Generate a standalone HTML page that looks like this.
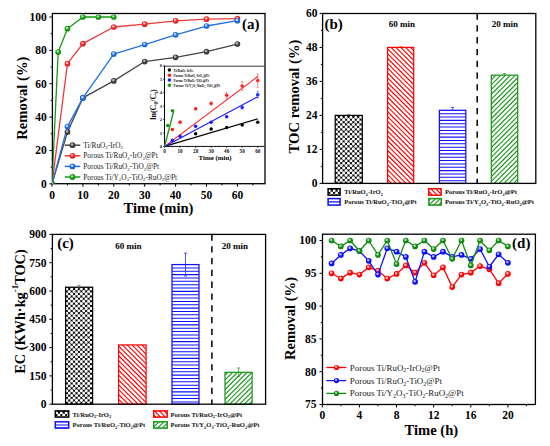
<!DOCTYPE html><html><head><meta charset="utf-8"><style>html,body{margin:0;padding:0;background:#fff;overflow:hidden;}svg{display:block;}</style></head><body>
<svg width="550" height="446" viewBox="0 0 550 446" font-family='"Liberation Serif", serif'>
<defs>
<radialGradient id="gk" cx="0.42" cy="0.38" r="0.62"><stop offset="0" stop-color="#b0b0b0"/><stop offset="0.22" stop-color="#b0b0b0"/><stop offset="0.5" stop-color="#3c3c3c"/><stop offset="1" stop-color="#3c3c3c"/></radialGradient>
<radialGradient id="gr" cx="0.42" cy="0.38" r="0.62"><stop offset="0" stop-color="#ffb0b0"/><stop offset="0.22" stop-color="#ffb0b0"/><stop offset="0.5" stop-color="#ee2020"/><stop offset="1" stop-color="#ee2020"/></radialGradient>
<radialGradient id="gb" cx="0.42" cy="0.38" r="0.62"><stop offset="0" stop-color="#b0d4ff"/><stop offset="0.22" stop-color="#b0d4ff"/><stop offset="0.5" stop-color="#1a68e0"/><stop offset="1" stop-color="#1a68e0"/></radialGradient>
<radialGradient id="gg" cx="0.42" cy="0.38" r="0.62"><stop offset="0" stop-color="#a0e0a0"/><stop offset="0.22" stop-color="#a0e0a0"/><stop offset="0.5" stop-color="#0f950f"/><stop offset="1" stop-color="#0f950f"/></radialGradient>
<radialGradient id="dr" cx="0.42" cy="0.38" r="0.62"><stop offset="0" stop-color="#ffb0b0"/><stop offset="0.22" stop-color="#ffb0b0"/><stop offset="0.5" stop-color="#ff0000"/><stop offset="1" stop-color="#ff0000"/></radialGradient>
<radialGradient id="db" cx="0.42" cy="0.38" r="0.62"><stop offset="0" stop-color="#b0b0ff"/><stop offset="0.22" stop-color="#b0b0ff"/><stop offset="0.5" stop-color="#0a0aff"/><stop offset="1" stop-color="#0a0aff"/></radialGradient>
<radialGradient id="dg" cx="0.42" cy="0.38" r="0.62"><stop offset="0" stop-color="#a0d8a0"/><stop offset="0.22" stop-color="#a0d8a0"/><stop offset="0.5" stop-color="#0e880e"/><stop offset="1" stop-color="#0e880e"/></radialGradient>
<pattern id="pbs" patternUnits="userSpaceOnUse" width="3.42" height="3.42" patternTransform="rotate(45)"><rect width="3.42" height="3.42" fill="#fff"/><line x1="0" y1="1.71" x2="3.42" y2="1.71" stroke="#ff0000" stroke-width="1.2"/></pattern>
<pattern id="pfs" patternUnits="userSpaceOnUse" width="3.42" height="3.42" patternTransform="rotate(-45)"><rect width="3.42" height="3.42" fill="#fff"/><line x1="0" y1="1.71" x2="3.42" y2="1.71" stroke="#1a961a" stroke-width="1.2"/></pattern>
<pattern id="phz" patternUnits="userSpaceOnUse" width="10" height="3.35" y="0"><rect width="10" height="3.35" fill="#fff"/><line x1="0" y1="0" x2="10" y2="0" stroke="#1010ff" stroke-width="1.1"/></pattern>
<pattern id="pxx" patternUnits="userSpaceOnUse" width="3.42" height="3.42" patternTransform="rotate(45)"><rect width="3.42" height="3.42" fill="#fff"/><line x1="0" y1="1.71" x2="3.42" y2="1.71" stroke="#000" stroke-width="1.3"/><line x1="1.71" y1="0" x2="1.71" y2="3.42" stroke="#000" stroke-width="1.3"/></pattern>
</defs>
<rect width="550" height="446" fill="#fff"/>
<line x1="49.4" y1="183.8" x2="52.4" y2="183.8" stroke="#000" stroke-width="1" />
<text x="46.8" y="187.6" font-size="11.5" font-weight="bold" text-anchor="end" >0</text>
<line x1="50.7" y1="167.12" x2="52.4" y2="167.12" stroke="#000" stroke-width="1" />
<line x1="49.4" y1="150.44" x2="52.4" y2="150.44" stroke="#000" stroke-width="1" />
<text x="46.8" y="154.24" font-size="11.5" font-weight="bold" text-anchor="end" >20</text>
<line x1="50.7" y1="133.76" x2="52.4" y2="133.76" stroke="#000" stroke-width="1" />
<line x1="49.4" y1="117.08" x2="52.4" y2="117.08" stroke="#000" stroke-width="1" />
<text x="46.8" y="120.88" font-size="11.5" font-weight="bold" text-anchor="end" >40</text>
<line x1="50.7" y1="100.4" x2="52.4" y2="100.4" stroke="#000" stroke-width="1" />
<line x1="49.4" y1="83.72" x2="52.4" y2="83.72" stroke="#000" stroke-width="1" />
<text x="46.8" y="87.52" font-size="11.5" font-weight="bold" text-anchor="end" >60</text>
<line x1="50.7" y1="67.04" x2="52.4" y2="67.04" stroke="#000" stroke-width="1" />
<line x1="49.4" y1="50.36" x2="52.4" y2="50.36" stroke="#000" stroke-width="1" />
<text x="46.8" y="54.16" font-size="11.5" font-weight="bold" text-anchor="end" >80</text>
<line x1="50.7" y1="33.68" x2="52.4" y2="33.68" stroke="#000" stroke-width="1" />
<line x1="49.4" y1="17" x2="52.4" y2="17" stroke="#000" stroke-width="1" />
<text x="46.8" y="20.8" font-size="11.5" font-weight="bold" text-anchor="end" >100</text>
<line x1="52" y1="183.7" x2="52" y2="186.7" stroke="#000" stroke-width="1" />
<text x="52" y="199" font-size="11.5" font-weight="bold" text-anchor="middle" >0</text>
<line x1="67.45" y1="183.7" x2="67.45" y2="185.4" stroke="#000" stroke-width="1" />
<line x1="82.9" y1="183.7" x2="82.9" y2="186.7" stroke="#000" stroke-width="1" />
<text x="82.9" y="199" font-size="11.5" font-weight="bold" text-anchor="middle" >10</text>
<line x1="98.35" y1="183.7" x2="98.35" y2="185.4" stroke="#000" stroke-width="1" />
<line x1="113.8" y1="183.7" x2="113.8" y2="186.7" stroke="#000" stroke-width="1" />
<text x="113.8" y="199" font-size="11.5" font-weight="bold" text-anchor="middle" >20</text>
<line x1="129.25" y1="183.7" x2="129.25" y2="185.4" stroke="#000" stroke-width="1" />
<line x1="144.7" y1="183.7" x2="144.7" y2="186.7" stroke="#000" stroke-width="1" />
<text x="144.7" y="199" font-size="11.5" font-weight="bold" text-anchor="middle" >30</text>
<line x1="160.15" y1="183.7" x2="160.15" y2="185.4" stroke="#000" stroke-width="1" />
<line x1="175.6" y1="183.7" x2="175.6" y2="186.7" stroke="#000" stroke-width="1" />
<text x="175.6" y="199" font-size="11.5" font-weight="bold" text-anchor="middle" >40</text>
<line x1="191.05" y1="183.7" x2="191.05" y2="185.4" stroke="#000" stroke-width="1" />
<line x1="206.5" y1="183.7" x2="206.5" y2="186.7" stroke="#000" stroke-width="1" />
<text x="206.5" y="199" font-size="11.5" font-weight="bold" text-anchor="middle" >50</text>
<line x1="221.95" y1="183.7" x2="221.95" y2="185.4" stroke="#000" stroke-width="1" />
<line x1="237.4" y1="183.7" x2="237.4" y2="186.7" stroke="#000" stroke-width="1" />
<text x="237.4" y="199" font-size="11.5" font-weight="bold" text-anchor="middle" >60</text>
<line x1="252.85" y1="183.7" x2="252.85" y2="185.4" stroke="#000" stroke-width="1" />
<text x="158.5" y="213.4" font-size="14.6" font-weight="bold" text-anchor="middle" >Time (min)</text>
<text x="0" y="0" font-size="14.6" font-weight="bold" text-anchor="middle" transform="translate(26.6,98.2) rotate(-90)">Removal (%)</text>
<text x="242" y="28.5" font-size="15" font-weight="bold" text-anchor="start" >(a)</text>
<rect x="52.4" y="13.5" width="212.6" height="170.2" fill="none" stroke="#000" stroke-width="1.3" />
<clipPath id="clipa"><rect x="52.4" y="13.5" width="212.6" height="170.2"/></clipPath><g clip-path="url(#clipa)">
<polyline points="52,183.8 67.45,132.09 82.9,97.9 113.8,80.88 144.7,61.54 175.6,57.37 206.5,51.69 237.4,44.02" fill="none" stroke="#444444" stroke-width="1.3" stroke-linejoin="round"/>
<polyline points="52,183.8 67.45,63.7 82.9,43.69 113.8,27.01 144.7,24.17 175.6,20.84 206.5,19.17 237.4,18.67" fill="none" stroke="#f03a3a" stroke-width="1.3" stroke-linejoin="round"/>
<polyline points="52,183.8 67.45,126.59 82.9,97.9 113.8,54.03 144.7,44.52 175.6,34.85 206.5,26.01 237.4,20.67" fill="none" stroke="#2070e8" stroke-width="1.3" stroke-linejoin="round"/>
<polyline points="52,183.8 58.18,52.03 67.45,28.68 82.9,17 98.35,17 113.8,17" fill="none" stroke="#149a14" stroke-width="1.3" stroke-linejoin="round"/>
<circle cx="52" cy="183.8" r="2.85" fill="url(#gk)"/>
<circle cx="67.45" cy="132.09" r="2.85" fill="url(#gk)"/>
<circle cx="82.9" cy="97.9" r="2.85" fill="url(#gk)"/>
<circle cx="113.8" cy="80.88" r="2.85" fill="url(#gk)"/>
<circle cx="144.7" cy="61.54" r="2.85" fill="url(#gk)"/>
<circle cx="175.6" cy="57.37" r="2.85" fill="url(#gk)"/>
<circle cx="206.5" cy="51.69" r="2.85" fill="url(#gk)"/>
<circle cx="237.4" cy="44.02" r="2.85" fill="url(#gk)"/>
<circle cx="52" cy="183.8" r="2.85" fill="url(#gr)"/>
<circle cx="67.45" cy="63.7" r="2.85" fill="url(#gr)"/>
<circle cx="82.9" cy="43.69" r="2.85" fill="url(#gr)"/>
<circle cx="113.8" cy="27.01" r="2.85" fill="url(#gr)"/>
<circle cx="144.7" cy="24.17" r="2.85" fill="url(#gr)"/>
<circle cx="175.6" cy="20.84" r="2.85" fill="url(#gr)"/>
<circle cx="206.5" cy="19.17" r="2.85" fill="url(#gr)"/>
<circle cx="237.4" cy="18.67" r="2.85" fill="url(#gr)"/>
<circle cx="52" cy="183.8" r="2.85" fill="url(#gb)"/>
<circle cx="67.45" cy="126.59" r="2.85" fill="url(#gb)"/>
<circle cx="82.9" cy="97.9" r="2.85" fill="url(#gb)"/>
<circle cx="113.8" cy="54.03" r="2.85" fill="url(#gb)"/>
<circle cx="144.7" cy="44.52" r="2.85" fill="url(#gb)"/>
<circle cx="175.6" cy="34.85" r="2.85" fill="url(#gb)"/>
<circle cx="206.5" cy="26.01" r="2.85" fill="url(#gb)"/>
<circle cx="237.4" cy="20.67" r="2.85" fill="url(#gb)"/>
<circle cx="52" cy="183.8" r="2.85" fill="url(#gg)"/>
<circle cx="58.18" cy="52.03" r="2.85" fill="url(#gg)"/>
<circle cx="67.45" cy="28.68" r="2.85" fill="url(#gg)"/>
<circle cx="82.9" cy="17" r="2.85" fill="url(#gg)"/>
<circle cx="98.35" cy="17" r="2.85" fill="url(#gg)"/>
<circle cx="113.8" cy="17" r="2.85" fill="url(#gg)"/>
</g>
<line x1="64.8" y1="145.2" x2="80.3" y2="145.2" stroke="#444444" stroke-width="1.5" />
<circle cx="72.5" cy="145.2" r="2.9" fill="url(#gk)"/>
<text x="83.3" y="147.7" font-size="7.3" font-weight="normal" fill="#222">Ti/RuO<tspan font-size="5" dy="1.6">2</tspan><tspan dy="-1.6">-IrO</tspan><tspan font-size="5" dy="1.6">2</tspan><tspan dy="-1.6"></tspan></text>
<line x1="64.8" y1="155.8" x2="80.3" y2="155.8" stroke="#f03a3a" stroke-width="1.5" />
<circle cx="72.5" cy="155.8" r="2.9" fill="url(#gr)"/>
<text x="83.3" y="158.3" font-size="7.3" font-weight="normal" fill="#222">Porous Ti/RuO<tspan font-size="5" dy="1.6">2</tspan><tspan dy="-1.6">-IrO</tspan><tspan font-size="5" dy="1.6">2</tspan><tspan dy="-1.6">@Pt</tspan></text>
<line x1="64.8" y1="166.4" x2="80.3" y2="166.4" stroke="#2070e8" stroke-width="1.5" />
<circle cx="72.5" cy="166.4" r="2.9" fill="url(#gb)"/>
<text x="83.3" y="168.9" font-size="7.3" font-weight="normal" fill="#222">Porous Ti/RuO<tspan font-size="5" dy="1.6">2</tspan><tspan dy="-1.6">-TiO</tspan><tspan font-size="5" dy="1.6">2</tspan><tspan dy="-1.6">@Pt</tspan></text>
<line x1="64.8" y1="177" x2="80.3" y2="177" stroke="#149a14" stroke-width="1.5" />
<circle cx="72.5" cy="177" r="2.9" fill="url(#gg)"/>
<text x="83.3" y="179.5" font-size="7.3" font-weight="normal" fill="#222">Porous Ti/Y<tspan font-size="5" dy="1.6">2</tspan><tspan dy="-1.6">O</tspan><tspan font-size="5" dy="1.6">3</tspan><tspan dy="-1.6">-TiO</tspan><tspan font-size="5" dy="1.6">2</tspan><tspan dy="-1.6">-RuO</tspan><tspan font-size="5" dy="1.6">2</tspan><tspan dy="-1.6">@Pt</tspan></text>
<line x1="164.5" y1="66.2" x2="264.5" y2="66.2" stroke="#222" stroke-width="0.9" />
<line x1="164.5" y1="146.4" x2="264.5" y2="146.4" stroke="#111" stroke-width="1.0" />
<line x1="164.5" y1="65.75" x2="164.5" y2="146.9" stroke="#000" stroke-width="1.0" />
<line x1="163" y1="146.4" x2="164.5" y2="146.4" stroke="#000" stroke-width="0.7" />
<text x="160.9" y="148" font-size="4.8" font-weight="bold" text-anchor="middle" fill="#111">0</text>
<line x1="163" y1="132.97" x2="164.5" y2="132.97" stroke="#000" stroke-width="0.7" />
<text x="160.9" y="134.57" font-size="4.8" font-weight="bold" text-anchor="middle" fill="#111">1</text>
<line x1="163" y1="119.54" x2="164.5" y2="119.54" stroke="#000" stroke-width="0.7" />
<text x="160.9" y="121.14" font-size="4.8" font-weight="bold" text-anchor="middle" fill="#111">2</text>
<line x1="163" y1="106.11" x2="164.5" y2="106.11" stroke="#000" stroke-width="0.7" />
<text x="160.9" y="107.71" font-size="4.8" font-weight="bold" text-anchor="middle" fill="#111">3</text>
<line x1="163" y1="92.68" x2="164.5" y2="92.68" stroke="#000" stroke-width="0.7" />
<text x="160.9" y="94.28" font-size="4.8" font-weight="bold" text-anchor="middle" fill="#111">4</text>
<line x1="163" y1="79.25" x2="164.5" y2="79.25" stroke="#000" stroke-width="0.7" />
<text x="160.9" y="80.85" font-size="4.8" font-weight="bold" text-anchor="middle" fill="#111">5</text>
<line x1="163" y1="65.82" x2="164.5" y2="65.82" stroke="#000" stroke-width="0.7" />
<text x="160.9" y="67.42" font-size="4.8" font-weight="bold" text-anchor="middle" fill="#111">6</text>
<line x1="164.6" y1="146.4" x2="164.6" y2="147.9" stroke="#000" stroke-width="0.7" />
<text x="164.6" y="153.2" font-size="5.2" font-weight="bold" text-anchor="middle" fill="#111">0</text>
<line x1="172.36" y1="146.4" x2="172.36" y2="147.3" stroke="#000" stroke-width="0.7" />
<line x1="180.12" y1="146.4" x2="180.12" y2="147.9" stroke="#000" stroke-width="0.7" />
<text x="180.12" y="153.2" font-size="5.2" font-weight="bold" text-anchor="middle" fill="#111">10</text>
<line x1="187.88" y1="146.4" x2="187.88" y2="147.3" stroke="#000" stroke-width="0.7" />
<line x1="195.64" y1="146.4" x2="195.64" y2="147.9" stroke="#000" stroke-width="0.7" />
<text x="195.64" y="153.2" font-size="5.2" font-weight="bold" text-anchor="middle" fill="#111">20</text>
<line x1="203.4" y1="146.4" x2="203.4" y2="147.3" stroke="#000" stroke-width="0.7" />
<line x1="211.16" y1="146.4" x2="211.16" y2="147.9" stroke="#000" stroke-width="0.7" />
<text x="211.16" y="153.2" font-size="5.2" font-weight="bold" text-anchor="middle" fill="#111">30</text>
<line x1="218.92" y1="146.4" x2="218.92" y2="147.3" stroke="#000" stroke-width="0.7" />
<line x1="226.68" y1="146.4" x2="226.68" y2="147.9" stroke="#000" stroke-width="0.7" />
<text x="226.68" y="153.2" font-size="5.2" font-weight="bold" text-anchor="middle" fill="#111">40</text>
<line x1="234.44" y1="146.4" x2="234.44" y2="147.3" stroke="#000" stroke-width="0.7" />
<line x1="242.2" y1="146.4" x2="242.2" y2="147.9" stroke="#000" stroke-width="0.7" />
<text x="242.2" y="153.2" font-size="5.2" font-weight="bold" text-anchor="middle" fill="#111">50</text>
<line x1="249.96" y1="146.4" x2="249.96" y2="147.3" stroke="#000" stroke-width="0.7" />
<line x1="257.72" y1="146.4" x2="257.72" y2="147.9" stroke="#000" stroke-width="0.7" />
<text x="257.72" y="153.2" font-size="5.2" font-weight="bold" text-anchor="middle" fill="#111">60</text>
<text x="215.1" y="160" font-size="6.9" font-weight="bold" text-anchor="middle" >Time (min)</text>
<text x="0" y="0" font-size="8" font-weight="bold" fill="#111" text-anchor="middle" transform="translate(156.3,104.5) rotate(-90)">ln(C<tspan font-size="5.6" dy="1.8">0</tspan><tspan dy="-1.8">/C</tspan><tspan font-size="5.6" dy="1.8">t</tspan><tspan dy="-1.8">)</tspan></text>
<g clip-path="none">
<line x1="164.6" y1="146.4" x2="257.72" y2="118.87" stroke="#000" stroke-width="1.1" />
<line x1="164.6" y1="146.4" x2="257.72" y2="76.56" stroke="#ff1a1a" stroke-width="1.1" />
<line x1="164.6" y1="146.4" x2="257.72" y2="96.71" stroke="#1a1aff" stroke-width="1.1" />
<line x1="164.6" y1="146.4" x2="173.91" y2="110.14" stroke="#1a9a1a" stroke-width="1.4" />
</g>
<circle cx="195.64" cy="133.64" r="1.75" fill="#000"/>
<circle cx="211.16" cy="128.94" r="1.75" fill="#000"/>
<circle cx="226.68" cy="127.6" r="1.75" fill="#000"/>
<circle cx="242.2" cy="124.91" r="1.75" fill="#000"/>
<circle cx="257.72" cy="122.23" r="1.75" fill="#000"/>
<circle cx="172.36" cy="129.61" r="1.75" fill="#ff1a1a"/>
<circle cx="180.12" cy="122.23" r="1.75" fill="#ff1a1a"/>
<circle cx="195.64" cy="108.8" r="1.75" fill="#ff1a1a"/>
<circle cx="211.16" cy="103.42" r="1.75" fill="#ff1a1a"/>
<circle cx="226.68" cy="95.37" r="1.75" fill="#ff1a1a"/>
<circle cx="242.2" cy="85.97" r="1.75" fill="#ff1a1a"/>
<circle cx="257.72" cy="80.59" r="1.75" fill="#ff1a1a"/>
<circle cx="172.36" cy="140.36" r="1.75" fill="#1a1aff"/>
<circle cx="180.12" cy="136.33" r="1.75" fill="#1a1aff"/>
<circle cx="195.64" cy="126.26" r="1.75" fill="#1a1aff"/>
<circle cx="211.16" cy="122.23" r="1.75" fill="#1a1aff"/>
<circle cx="226.68" cy="116.85" r="1.75" fill="#1a1aff"/>
<circle cx="242.2" cy="107.45" r="1.75" fill="#1a1aff"/>
<circle cx="257.72" cy="94.69" r="1.75" fill="#1a1aff"/>
<circle cx="167.7" cy="125.58" r="1.75" fill="#1a9a1a"/>
<circle cx="172.36" cy="110.81" r="1.75" fill="#1a9a1a"/>
<line x1="180.12" y1="123.57" x2="180.12" y2="120.88" stroke="#ff4040" stroke-width="0.6" />
<line x1="179.12" y1="123.57" x2="181.12" y2="123.57" stroke="#ff4040" stroke-width="0.6" />
<line x1="179.12" y1="120.88" x2="181.12" y2="120.88" stroke="#ff4040" stroke-width="0.6" />
<line x1="211.16" y1="105.04" x2="211.16" y2="101.81" stroke="#ff4040" stroke-width="0.6" />
<line x1="210.16" y1="105.04" x2="212.16" y2="105.04" stroke="#ff4040" stroke-width="0.6" />
<line x1="210.16" y1="101.81" x2="212.16" y2="101.81" stroke="#ff4040" stroke-width="0.6" />
<line x1="226.68" y1="98.32" x2="226.68" y2="92.41" stroke="#ff4040" stroke-width="0.6" />
<line x1="225.68" y1="98.32" x2="227.68" y2="98.32" stroke="#ff4040" stroke-width="0.6" />
<line x1="225.68" y1="92.41" x2="227.68" y2="92.41" stroke="#ff4040" stroke-width="0.6" />
<line x1="242.2" y1="90.26" x2="242.2" y2="81.67" stroke="#ff4040" stroke-width="0.6" />
<line x1="241.2" y1="90.26" x2="243.2" y2="90.26" stroke="#ff4040" stroke-width="0.6" />
<line x1="241.2" y1="81.67" x2="243.2" y2="81.67" stroke="#ff4040" stroke-width="0.6" />
<line x1="257.72" y1="87.31" x2="257.72" y2="73.88" stroke="#ff4040" stroke-width="0.6" />
<line x1="256.72" y1="87.31" x2="258.72" y2="87.31" stroke="#ff4040" stroke-width="0.6" />
<line x1="256.72" y1="73.88" x2="258.72" y2="73.88" stroke="#ff4040" stroke-width="0.6" />
<line x1="242.2" y1="109.06" x2="242.2" y2="105.84" stroke="#4040ff" stroke-width="0.6" />
<line x1="241.2" y1="109.06" x2="243.2" y2="109.06" stroke="#4040ff" stroke-width="0.6" />
<line x1="241.2" y1="105.84" x2="243.2" y2="105.84" stroke="#4040ff" stroke-width="0.6" />
<line x1="257.72" y1="98.05" x2="257.72" y2="91.34" stroke="#4040ff" stroke-width="0.6" />
<line x1="256.72" y1="98.05" x2="258.72" y2="98.05" stroke="#4040ff" stroke-width="0.6" />
<line x1="256.72" y1="91.34" x2="258.72" y2="91.34" stroke="#4040ff" stroke-width="0.6" />
<circle cx="169.4" cy="70.0" r="1.7" fill="#000"/>
<text x="173.5" y="71.5" font-size="4.4" font-weight="bold" fill="#111" textLength="20" lengthAdjust="spacingAndGlyphs">Ti/RuO<tspan font-size="2.6" dy="0.9">2</tspan><tspan dy="-0.9">-IrO</tspan><tspan font-size="2.6" dy="0.9">2</tspan><tspan dy="-0.9"></tspan></text>
<circle cx="169.4" cy="75.2" r="1.7" fill="#ff1a1a"/>
<text x="173.5" y="76.7" font-size="4.4" font-weight="bold" fill="#111" textLength="35.8" lengthAdjust="spacingAndGlyphs">Porous Ti/RuO<tspan font-size="2.6" dy="0.9">2</tspan><tspan dy="-0.9">-IrO</tspan><tspan font-size="2.6" dy="0.9">2</tspan><tspan dy="-0.9">@Pt</tspan></text>
<circle cx="169.4" cy="80.0" r="1.7" fill="#1a1aff"/>
<text x="173.5" y="81.5" font-size="4.4" font-weight="bold" fill="#111" textLength="35.3" lengthAdjust="spacingAndGlyphs">Porous Ti/RuO<tspan font-size="2.6" dy="0.9">2</tspan><tspan dy="-0.9">-TiO</tspan><tspan font-size="2.6" dy="0.9">2</tspan><tspan dy="-0.9">@Pt</tspan></text>
<circle cx="169.4" cy="85.3" r="1.7" fill="#1a9a1a"/>
<text x="173.5" y="86.8" font-size="4.4" font-weight="bold" fill="#111" textLength="46.7" lengthAdjust="spacingAndGlyphs">Porous Ti/Y<tspan font-size="2.6" dy="0.9">2</tspan><tspan dy="-0.9">O</tspan><tspan font-size="2.6" dy="0.9">3</tspan><tspan dy="-0.9">-RuO</tspan><tspan font-size="2.6" dy="0.9">2</tspan><tspan dy="-0.9">-TiO</tspan><tspan font-size="2.6" dy="0.9">2</tspan><tspan dy="-0.9">@Pt</tspan></text>
<line x1="319.6" y1="183.4" x2="322.6" y2="183.4" stroke="#000" stroke-width="1" />
<text x="317.6" y="187.2" font-size="11.5" font-weight="bold" text-anchor="end" >0</text>
<line x1="320.9" y1="166.4" x2="322.6" y2="166.4" stroke="#000" stroke-width="1" />
<line x1="319.6" y1="149.4" x2="322.6" y2="149.4" stroke="#000" stroke-width="1" />
<text x="317.6" y="153.2" font-size="11.5" font-weight="bold" text-anchor="end" >12</text>
<line x1="320.9" y1="132.4" x2="322.6" y2="132.4" stroke="#000" stroke-width="1" />
<line x1="319.6" y1="115.4" x2="322.6" y2="115.4" stroke="#000" stroke-width="1" />
<text x="317.6" y="119.2" font-size="11.5" font-weight="bold" text-anchor="end" >24</text>
<line x1="320.9" y1="98.4" x2="322.6" y2="98.4" stroke="#000" stroke-width="1" />
<line x1="319.6" y1="81.4" x2="322.6" y2="81.4" stroke="#000" stroke-width="1" />
<text x="317.6" y="85.2" font-size="11.5" font-weight="bold" text-anchor="end" >36</text>
<line x1="320.9" y1="64.4" x2="322.6" y2="64.4" stroke="#000" stroke-width="1" />
<line x1="319.6" y1="47.4" x2="322.6" y2="47.4" stroke="#000" stroke-width="1" />
<text x="317.6" y="51.2" font-size="11.5" font-weight="bold" text-anchor="end" >48</text>
<line x1="320.9" y1="30.4" x2="322.6" y2="30.4" stroke="#000" stroke-width="1" />
<line x1="319.6" y1="13.4" x2="322.6" y2="13.4" stroke="#000" stroke-width="1" />
<text x="317.6" y="17.2" font-size="11.5" font-weight="bold" text-anchor="end" >60</text>
<text x="0" y="0" font-size="14.6" font-weight="bold" text-anchor="middle" transform="translate(298.6,96.5) rotate(-90)">TOC removal (%)</text>
<clipPath id="c1"><rect x="335.2" y="115.4" width="27.1" height="68"/></clipPath>
<g clip-path="url(#c1)" stroke="#000" stroke-width="1.15">
<rect x="335.2" y="115.4" width="27.1" height="68" fill="#000" stroke="none"/>
<path fill="#fff" stroke="none" d="M334.86 117.22a1.55 1.55 0 1 0 3.1 0a1.55 1.55 0 1 0 -3.1 0M339.7 117.22a1.55 1.55 0 1 0 3.1 0a1.55 1.55 0 1 0 -3.1 0M344.54 117.22a1.55 1.55 0 1 0 3.1 0a1.55 1.55 0 1 0 -3.1 0M349.38 117.22a1.55 1.55 0 1 0 3.1 0a1.55 1.55 0 1 0 -3.1 0M354.22 117.22a1.55 1.55 0 1 0 3.1 0a1.55 1.55 0 1 0 -3.1 0M359.06 117.22a1.55 1.55 0 1 0 3.1 0a1.55 1.55 0 1 0 -3.1 0M337.28 119.64a1.55 1.55 0 1 0 3.1 0a1.55 1.55 0 1 0 -3.1 0M342.12 119.64a1.55 1.55 0 1 0 3.1 0a1.55 1.55 0 1 0 -3.1 0M346.96 119.64a1.55 1.55 0 1 0 3.1 0a1.55 1.55 0 1 0 -3.1 0M351.8 119.64a1.55 1.55 0 1 0 3.1 0a1.55 1.55 0 1 0 -3.1 0M356.64 119.64a1.55 1.55 0 1 0 3.1 0a1.55 1.55 0 1 0 -3.1 0M361.48 119.64a1.55 1.55 0 1 0 3.1 0a1.55 1.55 0 1 0 -3.1 0M334.86 122.06a1.55 1.55 0 1 0 3.1 0a1.55 1.55 0 1 0 -3.1 0M339.7 122.06a1.55 1.55 0 1 0 3.1 0a1.55 1.55 0 1 0 -3.1 0M344.54 122.06a1.55 1.55 0 1 0 3.1 0a1.55 1.55 0 1 0 -3.1 0M349.38 122.06a1.55 1.55 0 1 0 3.1 0a1.55 1.55 0 1 0 -3.1 0M354.22 122.06a1.55 1.55 0 1 0 3.1 0a1.55 1.55 0 1 0 -3.1 0M359.06 122.06a1.55 1.55 0 1 0 3.1 0a1.55 1.55 0 1 0 -3.1 0M337.28 124.48a1.55 1.55 0 1 0 3.1 0a1.55 1.55 0 1 0 -3.1 0M342.12 124.48a1.55 1.55 0 1 0 3.1 0a1.55 1.55 0 1 0 -3.1 0M346.96 124.48a1.55 1.55 0 1 0 3.1 0a1.55 1.55 0 1 0 -3.1 0M351.8 124.48a1.55 1.55 0 1 0 3.1 0a1.55 1.55 0 1 0 -3.1 0M356.64 124.48a1.55 1.55 0 1 0 3.1 0a1.55 1.55 0 1 0 -3.1 0M361.48 124.48a1.55 1.55 0 1 0 3.1 0a1.55 1.55 0 1 0 -3.1 0M334.86 126.9a1.55 1.55 0 1 0 3.1 0a1.55 1.55 0 1 0 -3.1 0M339.7 126.9a1.55 1.55 0 1 0 3.1 0a1.55 1.55 0 1 0 -3.1 0M344.54 126.9a1.55 1.55 0 1 0 3.1 0a1.55 1.55 0 1 0 -3.1 0M349.38 126.9a1.55 1.55 0 1 0 3.1 0a1.55 1.55 0 1 0 -3.1 0M354.22 126.9a1.55 1.55 0 1 0 3.1 0a1.55 1.55 0 1 0 -3.1 0M359.06 126.9a1.55 1.55 0 1 0 3.1 0a1.55 1.55 0 1 0 -3.1 0M337.28 129.32a1.55 1.55 0 1 0 3.1 0a1.55 1.55 0 1 0 -3.1 0M342.12 129.32a1.55 1.55 0 1 0 3.1 0a1.55 1.55 0 1 0 -3.1 0M346.96 129.32a1.55 1.55 0 1 0 3.1 0a1.55 1.55 0 1 0 -3.1 0M351.8 129.32a1.55 1.55 0 1 0 3.1 0a1.55 1.55 0 1 0 -3.1 0M356.64 129.32a1.55 1.55 0 1 0 3.1 0a1.55 1.55 0 1 0 -3.1 0M361.48 129.32a1.55 1.55 0 1 0 3.1 0a1.55 1.55 0 1 0 -3.1 0M334.86 131.74a1.55 1.55 0 1 0 3.1 0a1.55 1.55 0 1 0 -3.1 0M339.7 131.74a1.55 1.55 0 1 0 3.1 0a1.55 1.55 0 1 0 -3.1 0M344.54 131.74a1.55 1.55 0 1 0 3.1 0a1.55 1.55 0 1 0 -3.1 0M349.38 131.74a1.55 1.55 0 1 0 3.1 0a1.55 1.55 0 1 0 -3.1 0M354.22 131.74a1.55 1.55 0 1 0 3.1 0a1.55 1.55 0 1 0 -3.1 0M359.06 131.74a1.55 1.55 0 1 0 3.1 0a1.55 1.55 0 1 0 -3.1 0M337.28 134.16a1.55 1.55 0 1 0 3.1 0a1.55 1.55 0 1 0 -3.1 0M342.12 134.16a1.55 1.55 0 1 0 3.1 0a1.55 1.55 0 1 0 -3.1 0M346.96 134.16a1.55 1.55 0 1 0 3.1 0a1.55 1.55 0 1 0 -3.1 0M351.8 134.16a1.55 1.55 0 1 0 3.1 0a1.55 1.55 0 1 0 -3.1 0M356.64 134.16a1.55 1.55 0 1 0 3.1 0a1.55 1.55 0 1 0 -3.1 0M361.48 134.16a1.55 1.55 0 1 0 3.1 0a1.55 1.55 0 1 0 -3.1 0M334.86 136.58a1.55 1.55 0 1 0 3.1 0a1.55 1.55 0 1 0 -3.1 0M339.7 136.58a1.55 1.55 0 1 0 3.1 0a1.55 1.55 0 1 0 -3.1 0M344.54 136.58a1.55 1.55 0 1 0 3.1 0a1.55 1.55 0 1 0 -3.1 0M349.38 136.58a1.55 1.55 0 1 0 3.1 0a1.55 1.55 0 1 0 -3.1 0M354.22 136.58a1.55 1.55 0 1 0 3.1 0a1.55 1.55 0 1 0 -3.1 0M359.06 136.58a1.55 1.55 0 1 0 3.1 0a1.55 1.55 0 1 0 -3.1 0M337.28 139a1.55 1.55 0 1 0 3.1 0a1.55 1.55 0 1 0 -3.1 0M342.12 139a1.55 1.55 0 1 0 3.1 0a1.55 1.55 0 1 0 -3.1 0M346.96 139a1.55 1.55 0 1 0 3.1 0a1.55 1.55 0 1 0 -3.1 0M351.8 139a1.55 1.55 0 1 0 3.1 0a1.55 1.55 0 1 0 -3.1 0M356.64 139a1.55 1.55 0 1 0 3.1 0a1.55 1.55 0 1 0 -3.1 0M361.48 139a1.55 1.55 0 1 0 3.1 0a1.55 1.55 0 1 0 -3.1 0M334.86 141.42a1.55 1.55 0 1 0 3.1 0a1.55 1.55 0 1 0 -3.1 0M339.7 141.42a1.55 1.55 0 1 0 3.1 0a1.55 1.55 0 1 0 -3.1 0M344.54 141.42a1.55 1.55 0 1 0 3.1 0a1.55 1.55 0 1 0 -3.1 0M349.38 141.42a1.55 1.55 0 1 0 3.1 0a1.55 1.55 0 1 0 -3.1 0M354.22 141.42a1.55 1.55 0 1 0 3.1 0a1.55 1.55 0 1 0 -3.1 0M359.06 141.42a1.55 1.55 0 1 0 3.1 0a1.55 1.55 0 1 0 -3.1 0M337.28 143.84a1.55 1.55 0 1 0 3.1 0a1.55 1.55 0 1 0 -3.1 0M342.12 143.84a1.55 1.55 0 1 0 3.1 0a1.55 1.55 0 1 0 -3.1 0M346.96 143.84a1.55 1.55 0 1 0 3.1 0a1.55 1.55 0 1 0 -3.1 0M351.8 143.84a1.55 1.55 0 1 0 3.1 0a1.55 1.55 0 1 0 -3.1 0M356.64 143.84a1.55 1.55 0 1 0 3.1 0a1.55 1.55 0 1 0 -3.1 0M361.48 143.84a1.55 1.55 0 1 0 3.1 0a1.55 1.55 0 1 0 -3.1 0M334.86 146.26a1.55 1.55 0 1 0 3.1 0a1.55 1.55 0 1 0 -3.1 0M339.7 146.26a1.55 1.55 0 1 0 3.1 0a1.55 1.55 0 1 0 -3.1 0M344.54 146.26a1.55 1.55 0 1 0 3.1 0a1.55 1.55 0 1 0 -3.1 0M349.38 146.26a1.55 1.55 0 1 0 3.1 0a1.55 1.55 0 1 0 -3.1 0M354.22 146.26a1.55 1.55 0 1 0 3.1 0a1.55 1.55 0 1 0 -3.1 0M359.06 146.26a1.55 1.55 0 1 0 3.1 0a1.55 1.55 0 1 0 -3.1 0M337.28 148.68a1.55 1.55 0 1 0 3.1 0a1.55 1.55 0 1 0 -3.1 0M342.12 148.68a1.55 1.55 0 1 0 3.1 0a1.55 1.55 0 1 0 -3.1 0M346.96 148.68a1.55 1.55 0 1 0 3.1 0a1.55 1.55 0 1 0 -3.1 0M351.8 148.68a1.55 1.55 0 1 0 3.1 0a1.55 1.55 0 1 0 -3.1 0M356.64 148.68a1.55 1.55 0 1 0 3.1 0a1.55 1.55 0 1 0 -3.1 0M361.48 148.68a1.55 1.55 0 1 0 3.1 0a1.55 1.55 0 1 0 -3.1 0M334.86 151.1a1.55 1.55 0 1 0 3.1 0a1.55 1.55 0 1 0 -3.1 0M339.7 151.1a1.55 1.55 0 1 0 3.1 0a1.55 1.55 0 1 0 -3.1 0M344.54 151.1a1.55 1.55 0 1 0 3.1 0a1.55 1.55 0 1 0 -3.1 0M349.38 151.1a1.55 1.55 0 1 0 3.1 0a1.55 1.55 0 1 0 -3.1 0M354.22 151.1a1.55 1.55 0 1 0 3.1 0a1.55 1.55 0 1 0 -3.1 0M359.06 151.1a1.55 1.55 0 1 0 3.1 0a1.55 1.55 0 1 0 -3.1 0M337.28 153.52a1.55 1.55 0 1 0 3.1 0a1.55 1.55 0 1 0 -3.1 0M342.12 153.52a1.55 1.55 0 1 0 3.1 0a1.55 1.55 0 1 0 -3.1 0M346.96 153.52a1.55 1.55 0 1 0 3.1 0a1.55 1.55 0 1 0 -3.1 0M351.8 153.52a1.55 1.55 0 1 0 3.1 0a1.55 1.55 0 1 0 -3.1 0M356.64 153.52a1.55 1.55 0 1 0 3.1 0a1.55 1.55 0 1 0 -3.1 0M361.48 153.52a1.55 1.55 0 1 0 3.1 0a1.55 1.55 0 1 0 -3.1 0M334.86 155.94a1.55 1.55 0 1 0 3.1 0a1.55 1.55 0 1 0 -3.1 0M339.7 155.94a1.55 1.55 0 1 0 3.1 0a1.55 1.55 0 1 0 -3.1 0M344.54 155.94a1.55 1.55 0 1 0 3.1 0a1.55 1.55 0 1 0 -3.1 0M349.38 155.94a1.55 1.55 0 1 0 3.1 0a1.55 1.55 0 1 0 -3.1 0M354.22 155.94a1.55 1.55 0 1 0 3.1 0a1.55 1.55 0 1 0 -3.1 0M359.06 155.94a1.55 1.55 0 1 0 3.1 0a1.55 1.55 0 1 0 -3.1 0M337.28 158.36a1.55 1.55 0 1 0 3.1 0a1.55 1.55 0 1 0 -3.1 0M342.12 158.36a1.55 1.55 0 1 0 3.1 0a1.55 1.55 0 1 0 -3.1 0M346.96 158.36a1.55 1.55 0 1 0 3.1 0a1.55 1.55 0 1 0 -3.1 0M351.8 158.36a1.55 1.55 0 1 0 3.1 0a1.55 1.55 0 1 0 -3.1 0M356.64 158.36a1.55 1.55 0 1 0 3.1 0a1.55 1.55 0 1 0 -3.1 0M361.48 158.36a1.55 1.55 0 1 0 3.1 0a1.55 1.55 0 1 0 -3.1 0M334.86 160.78a1.55 1.55 0 1 0 3.1 0a1.55 1.55 0 1 0 -3.1 0M339.7 160.78a1.55 1.55 0 1 0 3.1 0a1.55 1.55 0 1 0 -3.1 0M344.54 160.78a1.55 1.55 0 1 0 3.1 0a1.55 1.55 0 1 0 -3.1 0M349.38 160.78a1.55 1.55 0 1 0 3.1 0a1.55 1.55 0 1 0 -3.1 0M354.22 160.78a1.55 1.55 0 1 0 3.1 0a1.55 1.55 0 1 0 -3.1 0M359.06 160.78a1.55 1.55 0 1 0 3.1 0a1.55 1.55 0 1 0 -3.1 0M337.28 163.2a1.55 1.55 0 1 0 3.1 0a1.55 1.55 0 1 0 -3.1 0M342.12 163.2a1.55 1.55 0 1 0 3.1 0a1.55 1.55 0 1 0 -3.1 0M346.96 163.2a1.55 1.55 0 1 0 3.1 0a1.55 1.55 0 1 0 -3.1 0M351.8 163.2a1.55 1.55 0 1 0 3.1 0a1.55 1.55 0 1 0 -3.1 0M356.64 163.2a1.55 1.55 0 1 0 3.1 0a1.55 1.55 0 1 0 -3.1 0M361.48 163.2a1.55 1.55 0 1 0 3.1 0a1.55 1.55 0 1 0 -3.1 0M334.86 165.62a1.55 1.55 0 1 0 3.1 0a1.55 1.55 0 1 0 -3.1 0M339.7 165.62a1.55 1.55 0 1 0 3.1 0a1.55 1.55 0 1 0 -3.1 0M344.54 165.62a1.55 1.55 0 1 0 3.1 0a1.55 1.55 0 1 0 -3.1 0M349.38 165.62a1.55 1.55 0 1 0 3.1 0a1.55 1.55 0 1 0 -3.1 0M354.22 165.62a1.55 1.55 0 1 0 3.1 0a1.55 1.55 0 1 0 -3.1 0M359.06 165.62a1.55 1.55 0 1 0 3.1 0a1.55 1.55 0 1 0 -3.1 0M337.28 168.04a1.55 1.55 0 1 0 3.1 0a1.55 1.55 0 1 0 -3.1 0M342.12 168.04a1.55 1.55 0 1 0 3.1 0a1.55 1.55 0 1 0 -3.1 0M346.96 168.04a1.55 1.55 0 1 0 3.1 0a1.55 1.55 0 1 0 -3.1 0M351.8 168.04a1.55 1.55 0 1 0 3.1 0a1.55 1.55 0 1 0 -3.1 0M356.64 168.04a1.55 1.55 0 1 0 3.1 0a1.55 1.55 0 1 0 -3.1 0M361.48 168.04a1.55 1.55 0 1 0 3.1 0a1.55 1.55 0 1 0 -3.1 0M334.86 170.46a1.55 1.55 0 1 0 3.1 0a1.55 1.55 0 1 0 -3.1 0M339.7 170.46a1.55 1.55 0 1 0 3.1 0a1.55 1.55 0 1 0 -3.1 0M344.54 170.46a1.55 1.55 0 1 0 3.1 0a1.55 1.55 0 1 0 -3.1 0M349.38 170.46a1.55 1.55 0 1 0 3.1 0a1.55 1.55 0 1 0 -3.1 0M354.22 170.46a1.55 1.55 0 1 0 3.1 0a1.55 1.55 0 1 0 -3.1 0M359.06 170.46a1.55 1.55 0 1 0 3.1 0a1.55 1.55 0 1 0 -3.1 0M337.28 172.88a1.55 1.55 0 1 0 3.1 0a1.55 1.55 0 1 0 -3.1 0M342.12 172.88a1.55 1.55 0 1 0 3.1 0a1.55 1.55 0 1 0 -3.1 0M346.96 172.88a1.55 1.55 0 1 0 3.1 0a1.55 1.55 0 1 0 -3.1 0M351.8 172.88a1.55 1.55 0 1 0 3.1 0a1.55 1.55 0 1 0 -3.1 0M356.64 172.88a1.55 1.55 0 1 0 3.1 0a1.55 1.55 0 1 0 -3.1 0M361.48 172.88a1.55 1.55 0 1 0 3.1 0a1.55 1.55 0 1 0 -3.1 0M334.86 175.3a1.55 1.55 0 1 0 3.1 0a1.55 1.55 0 1 0 -3.1 0M339.7 175.3a1.55 1.55 0 1 0 3.1 0a1.55 1.55 0 1 0 -3.1 0M344.54 175.3a1.55 1.55 0 1 0 3.1 0a1.55 1.55 0 1 0 -3.1 0M349.38 175.3a1.55 1.55 0 1 0 3.1 0a1.55 1.55 0 1 0 -3.1 0M354.22 175.3a1.55 1.55 0 1 0 3.1 0a1.55 1.55 0 1 0 -3.1 0M359.06 175.3a1.55 1.55 0 1 0 3.1 0a1.55 1.55 0 1 0 -3.1 0M337.28 177.72a1.55 1.55 0 1 0 3.1 0a1.55 1.55 0 1 0 -3.1 0M342.12 177.72a1.55 1.55 0 1 0 3.1 0a1.55 1.55 0 1 0 -3.1 0M346.96 177.72a1.55 1.55 0 1 0 3.1 0a1.55 1.55 0 1 0 -3.1 0M351.8 177.72a1.55 1.55 0 1 0 3.1 0a1.55 1.55 0 1 0 -3.1 0M356.64 177.72a1.55 1.55 0 1 0 3.1 0a1.55 1.55 0 1 0 -3.1 0M361.48 177.72a1.55 1.55 0 1 0 3.1 0a1.55 1.55 0 1 0 -3.1 0M334.86 180.14a1.55 1.55 0 1 0 3.1 0a1.55 1.55 0 1 0 -3.1 0M339.7 180.14a1.55 1.55 0 1 0 3.1 0a1.55 1.55 0 1 0 -3.1 0M344.54 180.14a1.55 1.55 0 1 0 3.1 0a1.55 1.55 0 1 0 -3.1 0M349.38 180.14a1.55 1.55 0 1 0 3.1 0a1.55 1.55 0 1 0 -3.1 0M354.22 180.14a1.55 1.55 0 1 0 3.1 0a1.55 1.55 0 1 0 -3.1 0M359.06 180.14a1.55 1.55 0 1 0 3.1 0a1.55 1.55 0 1 0 -3.1 0M337.28 182.56a1.55 1.55 0 1 0 3.1 0a1.55 1.55 0 1 0 -3.1 0M342.12 182.56a1.55 1.55 0 1 0 3.1 0a1.55 1.55 0 1 0 -3.1 0M346.96 182.56a1.55 1.55 0 1 0 3.1 0a1.55 1.55 0 1 0 -3.1 0M351.8 182.56a1.55 1.55 0 1 0 3.1 0a1.55 1.55 0 1 0 -3.1 0M356.64 182.56a1.55 1.55 0 1 0 3.1 0a1.55 1.55 0 1 0 -3.1 0M361.48 182.56a1.55 1.55 0 1 0 3.1 0a1.55 1.55 0 1 0 -3.1 0M334.86 184.98a1.55 1.55 0 1 0 3.1 0a1.55 1.55 0 1 0 -3.1 0M339.7 184.98a1.55 1.55 0 1 0 3.1 0a1.55 1.55 0 1 0 -3.1 0M344.54 184.98a1.55 1.55 0 1 0 3.1 0a1.55 1.55 0 1 0 -3.1 0M349.38 184.98a1.55 1.55 0 1 0 3.1 0a1.55 1.55 0 1 0 -3.1 0M354.22 184.98a1.55 1.55 0 1 0 3.1 0a1.55 1.55 0 1 0 -3.1 0M359.06 184.98a1.55 1.55 0 1 0 3.1 0a1.55 1.55 0 1 0 -3.1 0"/>
<path d="" fill="none"/></g>
<rect x="335.2" y="115.4" width="27.1" height="68" fill="none" stroke="#000" stroke-width="1.25" />
<line x1="348.75" y1="114.55" x2="348.75" y2="115.4" stroke="#666" stroke-width="0.7" />
<line x1="347.15" y1="114.55" x2="350.35" y2="114.55" stroke="#666" stroke-width="0.7" />
<clipPath id="c2"><rect x="387.6" y="47.4" width="26.1" height="136"/></clipPath>
<g clip-path="url(#c2)" stroke="#ff0000" stroke-width="1.15">
<path d="M250.68 47.4L386.68 183.4M255.52 47.4L391.52 183.4M260.36 47.4L396.36 183.4M265.2 47.4L401.2 183.4M270.04 47.4L406.04 183.4M274.88 47.4L410.88 183.4M279.72 47.4L415.72 183.4M284.56 47.4L420.56 183.4M289.4 47.4L425.4 183.4M294.24 47.4L430.24 183.4M299.08 47.4L435.08 183.4M303.92 47.4L439.92 183.4M308.76 47.4L444.76 183.4M313.6 47.4L449.6 183.4M318.44 47.4L454.44 183.4M323.28 47.4L459.28 183.4M328.12 47.4L464.12 183.4M332.96 47.4L468.96 183.4M337.8 47.4L473.8 183.4M342.64 47.4L478.64 183.4M347.48 47.4L483.48 183.4M352.32 47.4L488.32 183.4M357.16 47.4L493.16 183.4M362 47.4L498 183.4M366.84 47.4L502.84 183.4M371.68 47.4L507.68 183.4M376.52 47.4L512.52 183.4M381.36 47.4L517.36 183.4M386.2 47.4L522.2 183.4M391.04 47.4L527.04 183.4M395.88 47.4L531.88 183.4M400.72 47.4L536.72 183.4M405.56 47.4L541.56 183.4M410.4 47.4L546.4 183.4" fill="none"/></g>
<rect x="387.6" y="47.4" width="26.1" height="136" fill="none" stroke="#ff0000" stroke-width="1.25" />
<line x1="400.65" y1="46.83" x2="400.65" y2="47.4" stroke="#ff0000" stroke-width="0.7" />
<line x1="399.05" y1="46.83" x2="402.25" y2="46.83" stroke="#ff0000" stroke-width="0.7" />
<clipPath id="c3"><rect x="439.4" y="110.3" width="26.4" height="73.1"/></clipPath>
<g clip-path="url(#c3)" stroke="#1010ff" stroke-width="1.05">
<path d="M439.4 113.65L465.8 113.65M439.4 117L465.8 117M439.4 120.35L465.8 120.35M439.4 123.7L465.8 123.7M439.4 127.05L465.8 127.05M439.4 130.4L465.8 130.4M439.4 133.75L465.8 133.75M439.4 137.1L465.8 137.1M439.4 140.45L465.8 140.45M439.4 143.8L465.8 143.8M439.4 147.15L465.8 147.15M439.4 150.5L465.8 150.5M439.4 153.85L465.8 153.85M439.4 157.2L465.8 157.2M439.4 160.55L465.8 160.55M439.4 163.9L465.8 163.9M439.4 167.25L465.8 167.25M439.4 170.6L465.8 170.6M439.4 173.95L465.8 173.95M439.4 177.3L465.8 177.3M439.4 180.65L465.8 180.65" fill="none"/></g>
<rect x="439.4" y="110.3" width="26.4" height="73.1" fill="none" stroke="#1010ff" stroke-width="1.25" />
<line x1="452.6" y1="107.47" x2="452.6" y2="110.3" stroke="#1010ff" stroke-width="0.7" />
<line x1="451" y1="107.47" x2="454.2" y2="107.47" stroke="#1010ff" stroke-width="0.7" />
<clipPath id="c4"><rect x="491.3" y="75.17" width="26.4" height="108.23"/></clipPath>
<g clip-path="url(#c4)" stroke="#1a961a" stroke-width="1.15">
<path d="M491.11 75.17L382.88 183.4M495.95 75.17L387.72 183.4M500.79 75.17L392.56 183.4M505.63 75.17L397.4 183.4M510.47 75.17L402.24 183.4M515.31 75.17L407.08 183.4M520.15 75.17L411.92 183.4M524.99 75.17L416.76 183.4M529.83 75.17L421.6 183.4M534.67 75.17L426.44 183.4M539.51 75.17L431.28 183.4M544.35 75.17L436.12 183.4M549.19 75.17L440.96 183.4M554.03 75.17L445.8 183.4M558.87 75.17L450.64 183.4M563.71 75.17L455.48 183.4M568.55 75.17L460.32 183.4M573.39 75.17L465.16 183.4M578.23 75.17L470 183.4M583.07 75.17L474.84 183.4M587.91 75.17L479.68 183.4M592.75 75.17L484.52 183.4M597.59 75.17L489.36 183.4M602.43 75.17L494.2 183.4M607.27 75.17L499.04 183.4M612.11 75.17L503.88 183.4M616.95 75.17L508.72 183.4M621.79 75.17L513.56 183.4" fill="none"/></g>
<rect x="491.3" y="75.17" width="26.4" height="108.23" fill="none" stroke="#1a961a" stroke-width="1.25" />
<line x1="504.5" y1="73.47" x2="504.5" y2="75.17" stroke="#1a961a" stroke-width="0.7" />
<line x1="502.9" y1="73.47" x2="506.1" y2="73.47" stroke="#1a961a" stroke-width="0.7" />
<line x1="477.2" y1="13.5" x2="477.2" y2="183.4" stroke="#000" stroke-width="1.5" stroke-dasharray="6.3,5.5"/>
<text x="401.8" y="27" font-size="9" font-weight="bold" text-anchor="middle" >60 min</text>
<text x="505" y="27" font-size="9" font-weight="bold" text-anchor="middle" >20 min</text>
<text x="324.4" y="28.6" font-size="15" font-weight="bold" text-anchor="start" >(b)</text>
<rect x="322.6" y="13.5" width="213.2" height="169.9" fill="none" stroke="#000" stroke-width="1.3" />
<clipPath id="c5"><rect x="328.1" y="188.7" width="12" height="6.5"/></clipPath>
<g clip-path="url(#c5)" stroke="#000" stroke-width="1.15">
<rect x="328.1" y="188.7" width="12" height="6.5" fill="#000" stroke="none"/>
<path fill="#fff" stroke="none" d="M327.76 190.51a1.55 1.55 0 1 0 3.1 0a1.55 1.55 0 1 0 -3.1 0M332.6 190.51a1.55 1.55 0 1 0 3.1 0a1.55 1.55 0 1 0 -3.1 0M337.44 190.51a1.55 1.55 0 1 0 3.1 0a1.55 1.55 0 1 0 -3.1 0M330.18 192.93a1.55 1.55 0 1 0 3.1 0a1.55 1.55 0 1 0 -3.1 0M335.02 192.93a1.55 1.55 0 1 0 3.1 0a1.55 1.55 0 1 0 -3.1 0M339.86 192.93a1.55 1.55 0 1 0 3.1 0a1.55 1.55 0 1 0 -3.1 0M327.76 195.35a1.55 1.55 0 1 0 3.1 0a1.55 1.55 0 1 0 -3.1 0M332.6 195.35a1.55 1.55 0 1 0 3.1 0a1.55 1.55 0 1 0 -3.1 0M337.44 195.35a1.55 1.55 0 1 0 3.1 0a1.55 1.55 0 1 0 -3.1 0"/>
<path d="" fill="none"/></g>
<rect x="328.1" y="188.7" width="12" height="6.5" fill="none" stroke="#000" stroke-width="1.5" />
<text x="344.3" y="194.2" font-size="6.55" font-weight="bold" fill="#111">Ti/RuO<tspan font-size="4.5" dy="1.5">2</tspan><tspan dy="-1.5">-IrO</tspan><tspan font-size="4.5" dy="1.5">2</tspan><tspan dy="-1.5"></tspan></text>
<clipPath id="c6"><rect x="328.1" y="198.6" width="12" height="6.5"/></clipPath>
<g clip-path="url(#c6)" stroke="#1010ff" stroke-width="1.05">
<path d="M328.1 201.85L340.1 201.85" fill="none"/></g>
<rect x="328.1" y="198.6" width="12" height="6.5" fill="none" stroke="#1010ff" stroke-width="1.5" />
<text x="344.3" y="204.1" font-size="6.55" font-weight="bold" fill="#111">Porous Ti/RuO<tspan font-size="4.5" dy="1.5">2</tspan><tspan dy="-1.5">-TiO</tspan><tspan font-size="4.5" dy="1.5">2</tspan><tspan dy="-1.5">@Pt</tspan></text>
<clipPath id="c7"><rect x="428.7" y="188.7" width="12.4" height="6.5"/></clipPath>
<g clip-path="url(#c7)" stroke="#ff0000" stroke-width="1.15">
<path d="M421.02 188.7L427.52 195.2M425.86 188.7L432.36 195.2M430.7 188.7L437.2 195.2M435.54 188.7L442.04 195.2M440.38 188.7L446.88 195.2" fill="none"/></g>
<rect x="428.7" y="188.7" width="12.4" height="6.5" fill="none" stroke="#ff0000" stroke-width="1.5" />
<text x="445" y="194.2" font-size="6.55" font-weight="bold" fill="#111">Porous Ti/RuO<tspan font-size="4.5" dy="1.5">2</tspan><tspan dy="-1.5">-IrO</tspan><tspan font-size="4.5" dy="1.5">2</tspan><tspan dy="-1.5">@Pt</tspan></text>
<clipPath id="c8"><rect x="428.9" y="198.6" width="12.4" height="6.5"/></clipPath>
<g clip-path="url(#c8)" stroke="#1a961a" stroke-width="1.15">
<path d="M425.76 198.6L419.26 205.1M430.6 198.6L424.1 205.1M435.44 198.6L428.94 205.1M440.28 198.6L433.78 205.1M445.12 198.6L438.62 205.1" fill="none"/></g>
<rect x="428.9" y="198.6" width="12.4" height="6.5" fill="none" stroke="#1a961a" stroke-width="1.5" />
<text x="445" y="204.1" font-size="6.55" font-weight="bold" fill="#111">Porous Ti/Y<tspan font-size="4.5" dy="1.5">2</tspan><tspan dy="-1.5">O</tspan><tspan font-size="4.5" dy="1.5">3</tspan><tspan dy="-1.5">-TiO</tspan><tspan font-size="4.5" dy="1.5">2</tspan><tspan dy="-1.5">-RuO</tspan><tspan font-size="4.5" dy="1.5">2</tspan><tspan dy="-1.5">@Pt</tspan></text>
<line x1="49.4" y1="404.2" x2="52.4" y2="404.2" stroke="#000" stroke-width="1" />
<text x="46.6" y="408" font-size="11.5" font-weight="bold" text-anchor="end" >0</text>
<line x1="50.7" y1="390.05" x2="52.4" y2="390.05" stroke="#000" stroke-width="1" />
<line x1="49.4" y1="375.9" x2="52.4" y2="375.9" stroke="#000" stroke-width="1" />
<text x="46.6" y="379.7" font-size="11.5" font-weight="bold" text-anchor="end" >150</text>
<line x1="50.7" y1="361.75" x2="52.4" y2="361.75" stroke="#000" stroke-width="1" />
<line x1="49.4" y1="347.6" x2="52.4" y2="347.6" stroke="#000" stroke-width="1" />
<text x="46.6" y="351.4" font-size="11.5" font-weight="bold" text-anchor="end" >300</text>
<line x1="50.7" y1="333.45" x2="52.4" y2="333.45" stroke="#000" stroke-width="1" />
<line x1="49.4" y1="319.3" x2="52.4" y2="319.3" stroke="#000" stroke-width="1" />
<text x="46.6" y="323.1" font-size="11.5" font-weight="bold" text-anchor="end" >450</text>
<line x1="50.7" y1="305.15" x2="52.4" y2="305.15" stroke="#000" stroke-width="1" />
<line x1="49.4" y1="291" x2="52.4" y2="291" stroke="#000" stroke-width="1" />
<text x="46.6" y="294.8" font-size="11.5" font-weight="bold" text-anchor="end" >600</text>
<line x1="50.7" y1="276.85" x2="52.4" y2="276.85" stroke="#000" stroke-width="1" />
<line x1="49.4" y1="262.7" x2="52.4" y2="262.7" stroke="#000" stroke-width="1" />
<text x="46.6" y="266.5" font-size="11.5" font-weight="bold" text-anchor="end" >750</text>
<line x1="50.7" y1="248.55" x2="52.4" y2="248.55" stroke="#000" stroke-width="1" />
<line x1="49.4" y1="234.4" x2="52.4" y2="234.4" stroke="#000" stroke-width="1" />
<text x="46.6" y="238.2" font-size="11.5" font-weight="bold" text-anchor="end" >900</text>
<text x="0" y="0" font-size="14.3" font-weight="bold" text-anchor="middle" transform="translate(24.6,311.5) rotate(-90)">EC (KWh·kg<tspan font-size="9" dy="-6.2">-1</tspan><tspan dy="6.2">TOC)</tspan></text>
<clipPath id="c9"><rect x="65.6" y="287.22" width="27" height="116.98"/></clipPath>
<g clip-path="url(#c9)" stroke="#000" stroke-width="1.15">
<rect x="65.6" y="287.22" width="27" height="116.98" fill="#000" stroke="none"/>
<path fill="#fff" stroke="none" d="M65.26 289.04a1.55 1.55 0 1 0 3.1 0a1.55 1.55 0 1 0 -3.1 0M70.1 289.04a1.55 1.55 0 1 0 3.1 0a1.55 1.55 0 1 0 -3.1 0M74.94 289.04a1.55 1.55 0 1 0 3.1 0a1.55 1.55 0 1 0 -3.1 0M79.78 289.04a1.55 1.55 0 1 0 3.1 0a1.55 1.55 0 1 0 -3.1 0M84.62 289.04a1.55 1.55 0 1 0 3.1 0a1.55 1.55 0 1 0 -3.1 0M89.46 289.04a1.55 1.55 0 1 0 3.1 0a1.55 1.55 0 1 0 -3.1 0M67.68 291.46a1.55 1.55 0 1 0 3.1 0a1.55 1.55 0 1 0 -3.1 0M72.52 291.46a1.55 1.55 0 1 0 3.1 0a1.55 1.55 0 1 0 -3.1 0M77.36 291.46a1.55 1.55 0 1 0 3.1 0a1.55 1.55 0 1 0 -3.1 0M82.2 291.46a1.55 1.55 0 1 0 3.1 0a1.55 1.55 0 1 0 -3.1 0M87.04 291.46a1.55 1.55 0 1 0 3.1 0a1.55 1.55 0 1 0 -3.1 0M91.88 291.46a1.55 1.55 0 1 0 3.1 0a1.55 1.55 0 1 0 -3.1 0M65.26 293.88a1.55 1.55 0 1 0 3.1 0a1.55 1.55 0 1 0 -3.1 0M70.1 293.88a1.55 1.55 0 1 0 3.1 0a1.55 1.55 0 1 0 -3.1 0M74.94 293.88a1.55 1.55 0 1 0 3.1 0a1.55 1.55 0 1 0 -3.1 0M79.78 293.88a1.55 1.55 0 1 0 3.1 0a1.55 1.55 0 1 0 -3.1 0M84.62 293.88a1.55 1.55 0 1 0 3.1 0a1.55 1.55 0 1 0 -3.1 0M89.46 293.88a1.55 1.55 0 1 0 3.1 0a1.55 1.55 0 1 0 -3.1 0M67.68 296.3a1.55 1.55 0 1 0 3.1 0a1.55 1.55 0 1 0 -3.1 0M72.52 296.3a1.55 1.55 0 1 0 3.1 0a1.55 1.55 0 1 0 -3.1 0M77.36 296.3a1.55 1.55 0 1 0 3.1 0a1.55 1.55 0 1 0 -3.1 0M82.2 296.3a1.55 1.55 0 1 0 3.1 0a1.55 1.55 0 1 0 -3.1 0M87.04 296.3a1.55 1.55 0 1 0 3.1 0a1.55 1.55 0 1 0 -3.1 0M91.88 296.3a1.55 1.55 0 1 0 3.1 0a1.55 1.55 0 1 0 -3.1 0M65.26 298.72a1.55 1.55 0 1 0 3.1 0a1.55 1.55 0 1 0 -3.1 0M70.1 298.72a1.55 1.55 0 1 0 3.1 0a1.55 1.55 0 1 0 -3.1 0M74.94 298.72a1.55 1.55 0 1 0 3.1 0a1.55 1.55 0 1 0 -3.1 0M79.78 298.72a1.55 1.55 0 1 0 3.1 0a1.55 1.55 0 1 0 -3.1 0M84.62 298.72a1.55 1.55 0 1 0 3.1 0a1.55 1.55 0 1 0 -3.1 0M89.46 298.72a1.55 1.55 0 1 0 3.1 0a1.55 1.55 0 1 0 -3.1 0M67.68 301.14a1.55 1.55 0 1 0 3.1 0a1.55 1.55 0 1 0 -3.1 0M72.52 301.14a1.55 1.55 0 1 0 3.1 0a1.55 1.55 0 1 0 -3.1 0M77.36 301.14a1.55 1.55 0 1 0 3.1 0a1.55 1.55 0 1 0 -3.1 0M82.2 301.14a1.55 1.55 0 1 0 3.1 0a1.55 1.55 0 1 0 -3.1 0M87.04 301.14a1.55 1.55 0 1 0 3.1 0a1.55 1.55 0 1 0 -3.1 0M91.88 301.14a1.55 1.55 0 1 0 3.1 0a1.55 1.55 0 1 0 -3.1 0M65.26 303.56a1.55 1.55 0 1 0 3.1 0a1.55 1.55 0 1 0 -3.1 0M70.1 303.56a1.55 1.55 0 1 0 3.1 0a1.55 1.55 0 1 0 -3.1 0M74.94 303.56a1.55 1.55 0 1 0 3.1 0a1.55 1.55 0 1 0 -3.1 0M79.78 303.56a1.55 1.55 0 1 0 3.1 0a1.55 1.55 0 1 0 -3.1 0M84.62 303.56a1.55 1.55 0 1 0 3.1 0a1.55 1.55 0 1 0 -3.1 0M89.46 303.56a1.55 1.55 0 1 0 3.1 0a1.55 1.55 0 1 0 -3.1 0M67.68 305.98a1.55 1.55 0 1 0 3.1 0a1.55 1.55 0 1 0 -3.1 0M72.52 305.98a1.55 1.55 0 1 0 3.1 0a1.55 1.55 0 1 0 -3.1 0M77.36 305.98a1.55 1.55 0 1 0 3.1 0a1.55 1.55 0 1 0 -3.1 0M82.2 305.98a1.55 1.55 0 1 0 3.1 0a1.55 1.55 0 1 0 -3.1 0M87.04 305.98a1.55 1.55 0 1 0 3.1 0a1.55 1.55 0 1 0 -3.1 0M91.88 305.98a1.55 1.55 0 1 0 3.1 0a1.55 1.55 0 1 0 -3.1 0M65.26 308.4a1.55 1.55 0 1 0 3.1 0a1.55 1.55 0 1 0 -3.1 0M70.1 308.4a1.55 1.55 0 1 0 3.1 0a1.55 1.55 0 1 0 -3.1 0M74.94 308.4a1.55 1.55 0 1 0 3.1 0a1.55 1.55 0 1 0 -3.1 0M79.78 308.4a1.55 1.55 0 1 0 3.1 0a1.55 1.55 0 1 0 -3.1 0M84.62 308.4a1.55 1.55 0 1 0 3.1 0a1.55 1.55 0 1 0 -3.1 0M89.46 308.4a1.55 1.55 0 1 0 3.1 0a1.55 1.55 0 1 0 -3.1 0M67.68 310.82a1.55 1.55 0 1 0 3.1 0a1.55 1.55 0 1 0 -3.1 0M72.52 310.82a1.55 1.55 0 1 0 3.1 0a1.55 1.55 0 1 0 -3.1 0M77.36 310.82a1.55 1.55 0 1 0 3.1 0a1.55 1.55 0 1 0 -3.1 0M82.2 310.82a1.55 1.55 0 1 0 3.1 0a1.55 1.55 0 1 0 -3.1 0M87.04 310.82a1.55 1.55 0 1 0 3.1 0a1.55 1.55 0 1 0 -3.1 0M91.88 310.82a1.55 1.55 0 1 0 3.1 0a1.55 1.55 0 1 0 -3.1 0M65.26 313.24a1.55 1.55 0 1 0 3.1 0a1.55 1.55 0 1 0 -3.1 0M70.1 313.24a1.55 1.55 0 1 0 3.1 0a1.55 1.55 0 1 0 -3.1 0M74.94 313.24a1.55 1.55 0 1 0 3.1 0a1.55 1.55 0 1 0 -3.1 0M79.78 313.24a1.55 1.55 0 1 0 3.1 0a1.55 1.55 0 1 0 -3.1 0M84.62 313.24a1.55 1.55 0 1 0 3.1 0a1.55 1.55 0 1 0 -3.1 0M89.46 313.24a1.55 1.55 0 1 0 3.1 0a1.55 1.55 0 1 0 -3.1 0M67.68 315.66a1.55 1.55 0 1 0 3.1 0a1.55 1.55 0 1 0 -3.1 0M72.52 315.66a1.55 1.55 0 1 0 3.1 0a1.55 1.55 0 1 0 -3.1 0M77.36 315.66a1.55 1.55 0 1 0 3.1 0a1.55 1.55 0 1 0 -3.1 0M82.2 315.66a1.55 1.55 0 1 0 3.1 0a1.55 1.55 0 1 0 -3.1 0M87.04 315.66a1.55 1.55 0 1 0 3.1 0a1.55 1.55 0 1 0 -3.1 0M91.88 315.66a1.55 1.55 0 1 0 3.1 0a1.55 1.55 0 1 0 -3.1 0M65.26 318.08a1.55 1.55 0 1 0 3.1 0a1.55 1.55 0 1 0 -3.1 0M70.1 318.08a1.55 1.55 0 1 0 3.1 0a1.55 1.55 0 1 0 -3.1 0M74.94 318.08a1.55 1.55 0 1 0 3.1 0a1.55 1.55 0 1 0 -3.1 0M79.78 318.08a1.55 1.55 0 1 0 3.1 0a1.55 1.55 0 1 0 -3.1 0M84.62 318.08a1.55 1.55 0 1 0 3.1 0a1.55 1.55 0 1 0 -3.1 0M89.46 318.08a1.55 1.55 0 1 0 3.1 0a1.55 1.55 0 1 0 -3.1 0M67.68 320.5a1.55 1.55 0 1 0 3.1 0a1.55 1.55 0 1 0 -3.1 0M72.52 320.5a1.55 1.55 0 1 0 3.1 0a1.55 1.55 0 1 0 -3.1 0M77.36 320.5a1.55 1.55 0 1 0 3.1 0a1.55 1.55 0 1 0 -3.1 0M82.2 320.5a1.55 1.55 0 1 0 3.1 0a1.55 1.55 0 1 0 -3.1 0M87.04 320.5a1.55 1.55 0 1 0 3.1 0a1.55 1.55 0 1 0 -3.1 0M91.88 320.5a1.55 1.55 0 1 0 3.1 0a1.55 1.55 0 1 0 -3.1 0M65.26 322.92a1.55 1.55 0 1 0 3.1 0a1.55 1.55 0 1 0 -3.1 0M70.1 322.92a1.55 1.55 0 1 0 3.1 0a1.55 1.55 0 1 0 -3.1 0M74.94 322.92a1.55 1.55 0 1 0 3.1 0a1.55 1.55 0 1 0 -3.1 0M79.78 322.92a1.55 1.55 0 1 0 3.1 0a1.55 1.55 0 1 0 -3.1 0M84.62 322.92a1.55 1.55 0 1 0 3.1 0a1.55 1.55 0 1 0 -3.1 0M89.46 322.92a1.55 1.55 0 1 0 3.1 0a1.55 1.55 0 1 0 -3.1 0M67.68 325.34a1.55 1.55 0 1 0 3.1 0a1.55 1.55 0 1 0 -3.1 0M72.52 325.34a1.55 1.55 0 1 0 3.1 0a1.55 1.55 0 1 0 -3.1 0M77.36 325.34a1.55 1.55 0 1 0 3.1 0a1.55 1.55 0 1 0 -3.1 0M82.2 325.34a1.55 1.55 0 1 0 3.1 0a1.55 1.55 0 1 0 -3.1 0M87.04 325.34a1.55 1.55 0 1 0 3.1 0a1.55 1.55 0 1 0 -3.1 0M91.88 325.34a1.55 1.55 0 1 0 3.1 0a1.55 1.55 0 1 0 -3.1 0M65.26 327.76a1.55 1.55 0 1 0 3.1 0a1.55 1.55 0 1 0 -3.1 0M70.1 327.76a1.55 1.55 0 1 0 3.1 0a1.55 1.55 0 1 0 -3.1 0M74.94 327.76a1.55 1.55 0 1 0 3.1 0a1.55 1.55 0 1 0 -3.1 0M79.78 327.76a1.55 1.55 0 1 0 3.1 0a1.55 1.55 0 1 0 -3.1 0M84.62 327.76a1.55 1.55 0 1 0 3.1 0a1.55 1.55 0 1 0 -3.1 0M89.46 327.76a1.55 1.55 0 1 0 3.1 0a1.55 1.55 0 1 0 -3.1 0M67.68 330.18a1.55 1.55 0 1 0 3.1 0a1.55 1.55 0 1 0 -3.1 0M72.52 330.18a1.55 1.55 0 1 0 3.1 0a1.55 1.55 0 1 0 -3.1 0M77.36 330.18a1.55 1.55 0 1 0 3.1 0a1.55 1.55 0 1 0 -3.1 0M82.2 330.18a1.55 1.55 0 1 0 3.1 0a1.55 1.55 0 1 0 -3.1 0M87.04 330.18a1.55 1.55 0 1 0 3.1 0a1.55 1.55 0 1 0 -3.1 0M91.88 330.18a1.55 1.55 0 1 0 3.1 0a1.55 1.55 0 1 0 -3.1 0M65.26 332.6a1.55 1.55 0 1 0 3.1 0a1.55 1.55 0 1 0 -3.1 0M70.1 332.6a1.55 1.55 0 1 0 3.1 0a1.55 1.55 0 1 0 -3.1 0M74.94 332.6a1.55 1.55 0 1 0 3.1 0a1.55 1.55 0 1 0 -3.1 0M79.78 332.6a1.55 1.55 0 1 0 3.1 0a1.55 1.55 0 1 0 -3.1 0M84.62 332.6a1.55 1.55 0 1 0 3.1 0a1.55 1.55 0 1 0 -3.1 0M89.46 332.6a1.55 1.55 0 1 0 3.1 0a1.55 1.55 0 1 0 -3.1 0M67.68 335.02a1.55 1.55 0 1 0 3.1 0a1.55 1.55 0 1 0 -3.1 0M72.52 335.02a1.55 1.55 0 1 0 3.1 0a1.55 1.55 0 1 0 -3.1 0M77.36 335.02a1.55 1.55 0 1 0 3.1 0a1.55 1.55 0 1 0 -3.1 0M82.2 335.02a1.55 1.55 0 1 0 3.1 0a1.55 1.55 0 1 0 -3.1 0M87.04 335.02a1.55 1.55 0 1 0 3.1 0a1.55 1.55 0 1 0 -3.1 0M91.88 335.02a1.55 1.55 0 1 0 3.1 0a1.55 1.55 0 1 0 -3.1 0M65.26 337.44a1.55 1.55 0 1 0 3.1 0a1.55 1.55 0 1 0 -3.1 0M70.1 337.44a1.55 1.55 0 1 0 3.1 0a1.55 1.55 0 1 0 -3.1 0M74.94 337.44a1.55 1.55 0 1 0 3.1 0a1.55 1.55 0 1 0 -3.1 0M79.78 337.44a1.55 1.55 0 1 0 3.1 0a1.55 1.55 0 1 0 -3.1 0M84.62 337.44a1.55 1.55 0 1 0 3.1 0a1.55 1.55 0 1 0 -3.1 0M89.46 337.44a1.55 1.55 0 1 0 3.1 0a1.55 1.55 0 1 0 -3.1 0M67.68 339.86a1.55 1.55 0 1 0 3.1 0a1.55 1.55 0 1 0 -3.1 0M72.52 339.86a1.55 1.55 0 1 0 3.1 0a1.55 1.55 0 1 0 -3.1 0M77.36 339.86a1.55 1.55 0 1 0 3.1 0a1.55 1.55 0 1 0 -3.1 0M82.2 339.86a1.55 1.55 0 1 0 3.1 0a1.55 1.55 0 1 0 -3.1 0M87.04 339.86a1.55 1.55 0 1 0 3.1 0a1.55 1.55 0 1 0 -3.1 0M91.88 339.86a1.55 1.55 0 1 0 3.1 0a1.55 1.55 0 1 0 -3.1 0M65.26 342.28a1.55 1.55 0 1 0 3.1 0a1.55 1.55 0 1 0 -3.1 0M70.1 342.28a1.55 1.55 0 1 0 3.1 0a1.55 1.55 0 1 0 -3.1 0M74.94 342.28a1.55 1.55 0 1 0 3.1 0a1.55 1.55 0 1 0 -3.1 0M79.78 342.28a1.55 1.55 0 1 0 3.1 0a1.55 1.55 0 1 0 -3.1 0M84.62 342.28a1.55 1.55 0 1 0 3.1 0a1.55 1.55 0 1 0 -3.1 0M89.46 342.28a1.55 1.55 0 1 0 3.1 0a1.55 1.55 0 1 0 -3.1 0M67.68 344.7a1.55 1.55 0 1 0 3.1 0a1.55 1.55 0 1 0 -3.1 0M72.52 344.7a1.55 1.55 0 1 0 3.1 0a1.55 1.55 0 1 0 -3.1 0M77.36 344.7a1.55 1.55 0 1 0 3.1 0a1.55 1.55 0 1 0 -3.1 0M82.2 344.7a1.55 1.55 0 1 0 3.1 0a1.55 1.55 0 1 0 -3.1 0M87.04 344.7a1.55 1.55 0 1 0 3.1 0a1.55 1.55 0 1 0 -3.1 0M91.88 344.7a1.55 1.55 0 1 0 3.1 0a1.55 1.55 0 1 0 -3.1 0M65.26 347.12a1.55 1.55 0 1 0 3.1 0a1.55 1.55 0 1 0 -3.1 0M70.1 347.12a1.55 1.55 0 1 0 3.1 0a1.55 1.55 0 1 0 -3.1 0M74.94 347.12a1.55 1.55 0 1 0 3.1 0a1.55 1.55 0 1 0 -3.1 0M79.78 347.12a1.55 1.55 0 1 0 3.1 0a1.55 1.55 0 1 0 -3.1 0M84.62 347.12a1.55 1.55 0 1 0 3.1 0a1.55 1.55 0 1 0 -3.1 0M89.46 347.12a1.55 1.55 0 1 0 3.1 0a1.55 1.55 0 1 0 -3.1 0M67.68 349.54a1.55 1.55 0 1 0 3.1 0a1.55 1.55 0 1 0 -3.1 0M72.52 349.54a1.55 1.55 0 1 0 3.1 0a1.55 1.55 0 1 0 -3.1 0M77.36 349.54a1.55 1.55 0 1 0 3.1 0a1.55 1.55 0 1 0 -3.1 0M82.2 349.54a1.55 1.55 0 1 0 3.1 0a1.55 1.55 0 1 0 -3.1 0M87.04 349.54a1.55 1.55 0 1 0 3.1 0a1.55 1.55 0 1 0 -3.1 0M91.88 349.54a1.55 1.55 0 1 0 3.1 0a1.55 1.55 0 1 0 -3.1 0M65.26 351.96a1.55 1.55 0 1 0 3.1 0a1.55 1.55 0 1 0 -3.1 0M70.1 351.96a1.55 1.55 0 1 0 3.1 0a1.55 1.55 0 1 0 -3.1 0M74.94 351.96a1.55 1.55 0 1 0 3.1 0a1.55 1.55 0 1 0 -3.1 0M79.78 351.96a1.55 1.55 0 1 0 3.1 0a1.55 1.55 0 1 0 -3.1 0M84.62 351.96a1.55 1.55 0 1 0 3.1 0a1.55 1.55 0 1 0 -3.1 0M89.46 351.96a1.55 1.55 0 1 0 3.1 0a1.55 1.55 0 1 0 -3.1 0M67.68 354.38a1.55 1.55 0 1 0 3.1 0a1.55 1.55 0 1 0 -3.1 0M72.52 354.38a1.55 1.55 0 1 0 3.1 0a1.55 1.55 0 1 0 -3.1 0M77.36 354.38a1.55 1.55 0 1 0 3.1 0a1.55 1.55 0 1 0 -3.1 0M82.2 354.38a1.55 1.55 0 1 0 3.1 0a1.55 1.55 0 1 0 -3.1 0M87.04 354.38a1.55 1.55 0 1 0 3.1 0a1.55 1.55 0 1 0 -3.1 0M91.88 354.38a1.55 1.55 0 1 0 3.1 0a1.55 1.55 0 1 0 -3.1 0M65.26 356.8a1.55 1.55 0 1 0 3.1 0a1.55 1.55 0 1 0 -3.1 0M70.1 356.8a1.55 1.55 0 1 0 3.1 0a1.55 1.55 0 1 0 -3.1 0M74.94 356.8a1.55 1.55 0 1 0 3.1 0a1.55 1.55 0 1 0 -3.1 0M79.78 356.8a1.55 1.55 0 1 0 3.1 0a1.55 1.55 0 1 0 -3.1 0M84.62 356.8a1.55 1.55 0 1 0 3.1 0a1.55 1.55 0 1 0 -3.1 0M89.46 356.8a1.55 1.55 0 1 0 3.1 0a1.55 1.55 0 1 0 -3.1 0M67.68 359.22a1.55 1.55 0 1 0 3.1 0a1.55 1.55 0 1 0 -3.1 0M72.52 359.22a1.55 1.55 0 1 0 3.1 0a1.55 1.55 0 1 0 -3.1 0M77.36 359.22a1.55 1.55 0 1 0 3.1 0a1.55 1.55 0 1 0 -3.1 0M82.2 359.22a1.55 1.55 0 1 0 3.1 0a1.55 1.55 0 1 0 -3.1 0M87.04 359.22a1.55 1.55 0 1 0 3.1 0a1.55 1.55 0 1 0 -3.1 0M91.88 359.22a1.55 1.55 0 1 0 3.1 0a1.55 1.55 0 1 0 -3.1 0M65.26 361.64a1.55 1.55 0 1 0 3.1 0a1.55 1.55 0 1 0 -3.1 0M70.1 361.64a1.55 1.55 0 1 0 3.1 0a1.55 1.55 0 1 0 -3.1 0M74.94 361.64a1.55 1.55 0 1 0 3.1 0a1.55 1.55 0 1 0 -3.1 0M79.78 361.64a1.55 1.55 0 1 0 3.1 0a1.55 1.55 0 1 0 -3.1 0M84.62 361.64a1.55 1.55 0 1 0 3.1 0a1.55 1.55 0 1 0 -3.1 0M89.46 361.64a1.55 1.55 0 1 0 3.1 0a1.55 1.55 0 1 0 -3.1 0M67.68 364.06a1.55 1.55 0 1 0 3.1 0a1.55 1.55 0 1 0 -3.1 0M72.52 364.06a1.55 1.55 0 1 0 3.1 0a1.55 1.55 0 1 0 -3.1 0M77.36 364.06a1.55 1.55 0 1 0 3.1 0a1.55 1.55 0 1 0 -3.1 0M82.2 364.06a1.55 1.55 0 1 0 3.1 0a1.55 1.55 0 1 0 -3.1 0M87.04 364.06a1.55 1.55 0 1 0 3.1 0a1.55 1.55 0 1 0 -3.1 0M91.88 364.06a1.55 1.55 0 1 0 3.1 0a1.55 1.55 0 1 0 -3.1 0M65.26 366.48a1.55 1.55 0 1 0 3.1 0a1.55 1.55 0 1 0 -3.1 0M70.1 366.48a1.55 1.55 0 1 0 3.1 0a1.55 1.55 0 1 0 -3.1 0M74.94 366.48a1.55 1.55 0 1 0 3.1 0a1.55 1.55 0 1 0 -3.1 0M79.78 366.48a1.55 1.55 0 1 0 3.1 0a1.55 1.55 0 1 0 -3.1 0M84.62 366.48a1.55 1.55 0 1 0 3.1 0a1.55 1.55 0 1 0 -3.1 0M89.46 366.48a1.55 1.55 0 1 0 3.1 0a1.55 1.55 0 1 0 -3.1 0M67.68 368.9a1.55 1.55 0 1 0 3.1 0a1.55 1.55 0 1 0 -3.1 0M72.52 368.9a1.55 1.55 0 1 0 3.1 0a1.55 1.55 0 1 0 -3.1 0M77.36 368.9a1.55 1.55 0 1 0 3.1 0a1.55 1.55 0 1 0 -3.1 0M82.2 368.9a1.55 1.55 0 1 0 3.1 0a1.55 1.55 0 1 0 -3.1 0M87.04 368.9a1.55 1.55 0 1 0 3.1 0a1.55 1.55 0 1 0 -3.1 0M91.88 368.9a1.55 1.55 0 1 0 3.1 0a1.55 1.55 0 1 0 -3.1 0M65.26 371.32a1.55 1.55 0 1 0 3.1 0a1.55 1.55 0 1 0 -3.1 0M70.1 371.32a1.55 1.55 0 1 0 3.1 0a1.55 1.55 0 1 0 -3.1 0M74.94 371.32a1.55 1.55 0 1 0 3.1 0a1.55 1.55 0 1 0 -3.1 0M79.78 371.32a1.55 1.55 0 1 0 3.1 0a1.55 1.55 0 1 0 -3.1 0M84.62 371.32a1.55 1.55 0 1 0 3.1 0a1.55 1.55 0 1 0 -3.1 0M89.46 371.32a1.55 1.55 0 1 0 3.1 0a1.55 1.55 0 1 0 -3.1 0M67.68 373.74a1.55 1.55 0 1 0 3.1 0a1.55 1.55 0 1 0 -3.1 0M72.52 373.74a1.55 1.55 0 1 0 3.1 0a1.55 1.55 0 1 0 -3.1 0M77.36 373.74a1.55 1.55 0 1 0 3.1 0a1.55 1.55 0 1 0 -3.1 0M82.2 373.74a1.55 1.55 0 1 0 3.1 0a1.55 1.55 0 1 0 -3.1 0M87.04 373.74a1.55 1.55 0 1 0 3.1 0a1.55 1.55 0 1 0 -3.1 0M91.88 373.74a1.55 1.55 0 1 0 3.1 0a1.55 1.55 0 1 0 -3.1 0M65.26 376.16a1.55 1.55 0 1 0 3.1 0a1.55 1.55 0 1 0 -3.1 0M70.1 376.16a1.55 1.55 0 1 0 3.1 0a1.55 1.55 0 1 0 -3.1 0M74.94 376.16a1.55 1.55 0 1 0 3.1 0a1.55 1.55 0 1 0 -3.1 0M79.78 376.16a1.55 1.55 0 1 0 3.1 0a1.55 1.55 0 1 0 -3.1 0M84.62 376.16a1.55 1.55 0 1 0 3.1 0a1.55 1.55 0 1 0 -3.1 0M89.46 376.16a1.55 1.55 0 1 0 3.1 0a1.55 1.55 0 1 0 -3.1 0M67.68 378.58a1.55 1.55 0 1 0 3.1 0a1.55 1.55 0 1 0 -3.1 0M72.52 378.58a1.55 1.55 0 1 0 3.1 0a1.55 1.55 0 1 0 -3.1 0M77.36 378.58a1.55 1.55 0 1 0 3.1 0a1.55 1.55 0 1 0 -3.1 0M82.2 378.58a1.55 1.55 0 1 0 3.1 0a1.55 1.55 0 1 0 -3.1 0M87.04 378.58a1.55 1.55 0 1 0 3.1 0a1.55 1.55 0 1 0 -3.1 0M91.88 378.58a1.55 1.55 0 1 0 3.1 0a1.55 1.55 0 1 0 -3.1 0M65.26 381a1.55 1.55 0 1 0 3.1 0a1.55 1.55 0 1 0 -3.1 0M70.1 381a1.55 1.55 0 1 0 3.1 0a1.55 1.55 0 1 0 -3.1 0M74.94 381a1.55 1.55 0 1 0 3.1 0a1.55 1.55 0 1 0 -3.1 0M79.78 381a1.55 1.55 0 1 0 3.1 0a1.55 1.55 0 1 0 -3.1 0M84.62 381a1.55 1.55 0 1 0 3.1 0a1.55 1.55 0 1 0 -3.1 0M89.46 381a1.55 1.55 0 1 0 3.1 0a1.55 1.55 0 1 0 -3.1 0M67.68 383.42a1.55 1.55 0 1 0 3.1 0a1.55 1.55 0 1 0 -3.1 0M72.52 383.42a1.55 1.55 0 1 0 3.1 0a1.55 1.55 0 1 0 -3.1 0M77.36 383.42a1.55 1.55 0 1 0 3.1 0a1.55 1.55 0 1 0 -3.1 0M82.2 383.42a1.55 1.55 0 1 0 3.1 0a1.55 1.55 0 1 0 -3.1 0M87.04 383.42a1.55 1.55 0 1 0 3.1 0a1.55 1.55 0 1 0 -3.1 0M91.88 383.42a1.55 1.55 0 1 0 3.1 0a1.55 1.55 0 1 0 -3.1 0M65.26 385.84a1.55 1.55 0 1 0 3.1 0a1.55 1.55 0 1 0 -3.1 0M70.1 385.84a1.55 1.55 0 1 0 3.1 0a1.55 1.55 0 1 0 -3.1 0M74.94 385.84a1.55 1.55 0 1 0 3.1 0a1.55 1.55 0 1 0 -3.1 0M79.78 385.84a1.55 1.55 0 1 0 3.1 0a1.55 1.55 0 1 0 -3.1 0M84.62 385.84a1.55 1.55 0 1 0 3.1 0a1.55 1.55 0 1 0 -3.1 0M89.46 385.84a1.55 1.55 0 1 0 3.1 0a1.55 1.55 0 1 0 -3.1 0M67.68 388.26a1.55 1.55 0 1 0 3.1 0a1.55 1.55 0 1 0 -3.1 0M72.52 388.26a1.55 1.55 0 1 0 3.1 0a1.55 1.55 0 1 0 -3.1 0M77.36 388.26a1.55 1.55 0 1 0 3.1 0a1.55 1.55 0 1 0 -3.1 0M82.2 388.26a1.55 1.55 0 1 0 3.1 0a1.55 1.55 0 1 0 -3.1 0M87.04 388.26a1.55 1.55 0 1 0 3.1 0a1.55 1.55 0 1 0 -3.1 0M91.88 388.26a1.55 1.55 0 1 0 3.1 0a1.55 1.55 0 1 0 -3.1 0M65.26 390.68a1.55 1.55 0 1 0 3.1 0a1.55 1.55 0 1 0 -3.1 0M70.1 390.68a1.55 1.55 0 1 0 3.1 0a1.55 1.55 0 1 0 -3.1 0M74.94 390.68a1.55 1.55 0 1 0 3.1 0a1.55 1.55 0 1 0 -3.1 0M79.78 390.68a1.55 1.55 0 1 0 3.1 0a1.55 1.55 0 1 0 -3.1 0M84.62 390.68a1.55 1.55 0 1 0 3.1 0a1.55 1.55 0 1 0 -3.1 0M89.46 390.68a1.55 1.55 0 1 0 3.1 0a1.55 1.55 0 1 0 -3.1 0M67.68 393.1a1.55 1.55 0 1 0 3.1 0a1.55 1.55 0 1 0 -3.1 0M72.52 393.1a1.55 1.55 0 1 0 3.1 0a1.55 1.55 0 1 0 -3.1 0M77.36 393.1a1.55 1.55 0 1 0 3.1 0a1.55 1.55 0 1 0 -3.1 0M82.2 393.1a1.55 1.55 0 1 0 3.1 0a1.55 1.55 0 1 0 -3.1 0M87.04 393.1a1.55 1.55 0 1 0 3.1 0a1.55 1.55 0 1 0 -3.1 0M91.88 393.1a1.55 1.55 0 1 0 3.1 0a1.55 1.55 0 1 0 -3.1 0M65.26 395.52a1.55 1.55 0 1 0 3.1 0a1.55 1.55 0 1 0 -3.1 0M70.1 395.52a1.55 1.55 0 1 0 3.1 0a1.55 1.55 0 1 0 -3.1 0M74.94 395.52a1.55 1.55 0 1 0 3.1 0a1.55 1.55 0 1 0 -3.1 0M79.78 395.52a1.55 1.55 0 1 0 3.1 0a1.55 1.55 0 1 0 -3.1 0M84.62 395.52a1.55 1.55 0 1 0 3.1 0a1.55 1.55 0 1 0 -3.1 0M89.46 395.52a1.55 1.55 0 1 0 3.1 0a1.55 1.55 0 1 0 -3.1 0M67.68 397.94a1.55 1.55 0 1 0 3.1 0a1.55 1.55 0 1 0 -3.1 0M72.52 397.94a1.55 1.55 0 1 0 3.1 0a1.55 1.55 0 1 0 -3.1 0M77.36 397.94a1.55 1.55 0 1 0 3.1 0a1.55 1.55 0 1 0 -3.1 0M82.2 397.94a1.55 1.55 0 1 0 3.1 0a1.55 1.55 0 1 0 -3.1 0M87.04 397.94a1.55 1.55 0 1 0 3.1 0a1.55 1.55 0 1 0 -3.1 0M91.88 397.94a1.55 1.55 0 1 0 3.1 0a1.55 1.55 0 1 0 -3.1 0M65.26 400.36a1.55 1.55 0 1 0 3.1 0a1.55 1.55 0 1 0 -3.1 0M70.1 400.36a1.55 1.55 0 1 0 3.1 0a1.55 1.55 0 1 0 -3.1 0M74.94 400.36a1.55 1.55 0 1 0 3.1 0a1.55 1.55 0 1 0 -3.1 0M79.78 400.36a1.55 1.55 0 1 0 3.1 0a1.55 1.55 0 1 0 -3.1 0M84.62 400.36a1.55 1.55 0 1 0 3.1 0a1.55 1.55 0 1 0 -3.1 0M89.46 400.36a1.55 1.55 0 1 0 3.1 0a1.55 1.55 0 1 0 -3.1 0M67.68 402.78a1.55 1.55 0 1 0 3.1 0a1.55 1.55 0 1 0 -3.1 0M72.52 402.78a1.55 1.55 0 1 0 3.1 0a1.55 1.55 0 1 0 -3.1 0M77.36 402.78a1.55 1.55 0 1 0 3.1 0a1.55 1.55 0 1 0 -3.1 0M82.2 402.78a1.55 1.55 0 1 0 3.1 0a1.55 1.55 0 1 0 -3.1 0M87.04 402.78a1.55 1.55 0 1 0 3.1 0a1.55 1.55 0 1 0 -3.1 0M91.88 402.78a1.55 1.55 0 1 0 3.1 0a1.55 1.55 0 1 0 -3.1 0M65.26 405.2a1.55 1.55 0 1 0 3.1 0a1.55 1.55 0 1 0 -3.1 0M70.1 405.2a1.55 1.55 0 1 0 3.1 0a1.55 1.55 0 1 0 -3.1 0M74.94 405.2a1.55 1.55 0 1 0 3.1 0a1.55 1.55 0 1 0 -3.1 0M79.78 405.2a1.55 1.55 0 1 0 3.1 0a1.55 1.55 0 1 0 -3.1 0M84.62 405.2a1.55 1.55 0 1 0 3.1 0a1.55 1.55 0 1 0 -3.1 0M89.46 405.2a1.55 1.55 0 1 0 3.1 0a1.55 1.55 0 1 0 -3.1 0"/>
<path d="" fill="none"/></g>
<rect x="65.6" y="287.22" width="27" height="116.98" fill="none" stroke="#000" stroke-width="1.25" />
<line x1="79.1" y1="285.34" x2="79.1" y2="289.11" stroke="#666" stroke-width="0.7" />
<line x1="77.5" y1="285.34" x2="80.7" y2="285.34" stroke="#666" stroke-width="0.7" />
<line x1="77.5" y1="289.11" x2="80.7" y2="289.11" stroke="#666" stroke-width="0.7" />
<clipPath id="c10"><rect x="118.6" y="344.96" width="27.5" height="59.24"/></clipPath>
<g clip-path="url(#c10)" stroke="#ff0000" stroke-width="1.15">
<path d="M54.56 344.96L113.8 404.2M59.4 344.96L118.64 404.2M64.24 344.96L123.48 404.2M69.08 344.96L128.32 404.2M73.92 344.96L133.16 404.2M78.76 344.96L138 404.2M83.6 344.96L142.84 404.2M88.44 344.96L147.68 404.2M93.28 344.96L152.52 404.2M98.12 344.96L157.36 404.2M102.96 344.96L162.2 404.2M107.8 344.96L167.04 404.2M112.64 344.96L171.88 404.2M117.48 344.96L176.72 404.2M122.32 344.96L181.56 404.2M127.16 344.96L186.4 404.2M132 344.96L191.24 404.2M136.84 344.96L196.08 404.2M141.68 344.96L200.92 404.2" fill="none"/></g>
<rect x="118.6" y="344.96" width="27.5" height="59.24" fill="none" stroke="#ff0000" stroke-width="1.25" />
<clipPath id="c11"><rect x="172" y="264.58" width="27" height="139.62"/></clipPath>
<g clip-path="url(#c11)" stroke="#1010ff" stroke-width="1.05">
<path d="M172 267.93L199 267.93M172 271.28L199 271.28M172 274.63L199 274.63M172 277.98L199 277.98M172 281.33L199 281.33M172 284.68L199 284.68M172 288.03L199 288.03M172 291.38L199 291.38M172 294.73L199 294.73M172 298.08L199 298.08M172 301.43L199 301.43M172 304.78L199 304.78M172 308.13L199 308.13M172 311.48L199 311.48M172 314.83L199 314.83M172 318.18L199 318.18M172 321.53L199 321.53M172 324.88L199 324.88M172 328.23L199 328.23M172 331.58L199 331.58M172 334.93L199 334.93M172 338.28L199 338.28M172 341.63L199 341.63M172 344.98L199 344.98M172 348.33L199 348.33M172 351.68L199 351.68M172 355.03L199 355.03M172 358.38L199 358.38M172 361.73L199 361.73M172 365.08L199 365.08M172 368.43L199 368.43M172 371.78L199 371.78M172 375.13L199 375.13M172 378.48L199 378.48M172 381.83L199 381.83M172 385.18L199 385.18M172 388.53L199 388.53M172 391.88L199 391.88M172 395.23L199 395.23M172 398.58L199 398.58M172 401.93L199 401.93" fill="none"/></g>
<rect x="172" y="264.58" width="27" height="139.62" fill="none" stroke="#1010ff" stroke-width="1.25" />
<line x1="185.5" y1="253.26" x2="185.5" y2="275.9" stroke="#1010ff" stroke-width="0.7" />
<line x1="183.9" y1="253.26" x2="187.1" y2="253.26" stroke="#1010ff" stroke-width="0.7" />
<line x1="183.9" y1="275.9" x2="187.1" y2="275.9" stroke="#1010ff" stroke-width="0.7" />
<clipPath id="c12"><rect x="225" y="372.31" width="27.1" height="31.89"/></clipPath>
<g clip-path="url(#c12)" stroke="#1a961a" stroke-width="1.15">
<path d="M223.01 372.31L191.12 404.2M227.85 372.31L195.96 404.2M232.69 372.31L200.8 404.2M237.53 372.31L205.64 404.2M242.37 372.31L210.48 404.2M247.21 372.31L215.32 404.2M252.05 372.31L220.16 404.2M256.89 372.31L225 404.2M261.73 372.31L229.84 404.2M266.57 372.31L234.68 404.2M271.41 372.31L239.52 404.2M276.25 372.31L244.36 404.2M281.09 372.31L249.2 404.2" fill="none"/></g>
<rect x="225" y="372.31" width="27.1" height="31.89" fill="none" stroke="#1a961a" stroke-width="1.25" />
<line x1="238.55" y1="367.98" x2="238.55" y2="376.65" stroke="#1a961a" stroke-width="0.7" />
<line x1="236.95" y1="367.98" x2="240.15" y2="367.98" stroke="#1a961a" stroke-width="0.7" />
<line x1="236.95" y1="376.65" x2="240.15" y2="376.65" stroke="#1a961a" stroke-width="0.7" />
<line x1="211.9" y1="234.4" x2="211.9" y2="404.2" stroke="#000" stroke-width="1.5" stroke-dasharray="6.3,5.5"/>
<text x="128.3" y="249" font-size="9" font-weight="bold" text-anchor="middle" >60 min</text>
<text x="235" y="248.5" font-size="9" font-weight="bold" text-anchor="middle" >20 min</text>
<text x="57.2" y="247.5" font-size="15" font-weight="bold" text-anchor="start" >(c)</text>
<rect x="52.4" y="234.4" width="213.2" height="169.8" fill="none" stroke="#000" stroke-width="1.3" />
<clipPath id="c13"><rect x="55.3" y="410.9" width="13.4" height="6.2"/></clipPath>
<g clip-path="url(#c13)" stroke="#000" stroke-width="1.15">
<rect x="55.3" y="410.9" width="13.4" height="6.2" fill="#000" stroke="none"/>
<path fill="#fff" stroke="none" d="M54.96 412.71a1.55 1.55 0 1 0 3.1 0a1.55 1.55 0 1 0 -3.1 0M59.8 412.71a1.55 1.55 0 1 0 3.1 0a1.55 1.55 0 1 0 -3.1 0M64.64 412.71a1.55 1.55 0 1 0 3.1 0a1.55 1.55 0 1 0 -3.1 0M69.48 412.71a1.55 1.55 0 1 0 3.1 0a1.55 1.55 0 1 0 -3.1 0M57.38 415.13a1.55 1.55 0 1 0 3.1 0a1.55 1.55 0 1 0 -3.1 0M62.22 415.13a1.55 1.55 0 1 0 3.1 0a1.55 1.55 0 1 0 -3.1 0M67.06 415.13a1.55 1.55 0 1 0 3.1 0a1.55 1.55 0 1 0 -3.1 0M54.96 417.56a1.55 1.55 0 1 0 3.1 0a1.55 1.55 0 1 0 -3.1 0M59.8 417.56a1.55 1.55 0 1 0 3.1 0a1.55 1.55 0 1 0 -3.1 0M64.64 417.56a1.55 1.55 0 1 0 3.1 0a1.55 1.55 0 1 0 -3.1 0M69.48 417.56a1.55 1.55 0 1 0 3.1 0a1.55 1.55 0 1 0 -3.1 0"/>
<path d="" fill="none"/></g>
<rect x="55.3" y="410.9" width="13.4" height="6.2" fill="none" stroke="#000" stroke-width="1.5" />
<text x="72.6" y="416.5" font-size="6.55" font-weight="bold" fill="#111">Ti/RuO<tspan font-size="4.5" dy="1.5">2</tspan><tspan dy="-1.5">-IrO</tspan><tspan font-size="4.5" dy="1.5">2</tspan><tspan dy="-1.5"></tspan></text>
<clipPath id="c14"><rect x="55.3" y="421.8" width="13.4" height="6.3"/></clipPath>
<g clip-path="url(#c14)" stroke="#1010ff" stroke-width="1.05">
<path d="M55.3 424.95L68.7 424.95M55.3 428.1L68.7 428.1" fill="none"/></g>
<rect x="55.3" y="421.8" width="13.4" height="6.3" fill="none" stroke="#1010ff" stroke-width="1.5" />
<text x="72.6" y="427.4" font-size="6.55" font-weight="bold" fill="#111">Porous Ti/RuO<tspan font-size="4.5" dy="1.5">2</tspan><tspan dy="-1.5">-TiO</tspan><tspan font-size="4.5" dy="1.5">2</tspan><tspan dy="-1.5">@Pt</tspan></text>
<clipPath id="c15"><rect x="153.7" y="410.9" width="13.5" height="6.2"/></clipPath>
<g clip-path="url(#c15)" stroke="#ff0000" stroke-width="1.15">
<path d="M144.7 410.9L150.9 417.1M149.54 410.9L155.74 417.1M154.38 410.9L160.58 417.1M159.22 410.9L165.42 417.1M164.06 410.9L170.26 417.1" fill="none"/></g>
<rect x="153.7" y="410.9" width="13.5" height="6.2" fill="none" stroke="#ff0000" stroke-width="1.5" />
<text x="170.4" y="416.5" font-size="6.55" font-weight="bold" fill="#111">Porous Ti/RuO<tspan font-size="4.5" dy="1.5">2</tspan><tspan dy="-1.5">-IrO</tspan><tspan font-size="4.5" dy="1.5">2</tspan><tspan dy="-1.5">@Pt</tspan></text>
<clipPath id="c16"><rect x="153.7" y="421.8" width="13.5" height="6.3"/></clipPath>
<g clip-path="url(#c16)" stroke="#1a961a" stroke-width="1.15">
<path d="M149.32 421.8L143.02 428.1M154.16 421.8L147.86 428.1M159 421.8L152.7 428.1M163.84 421.8L157.54 428.1M168.68 421.8L162.38 428.1" fill="none"/></g>
<rect x="153.7" y="421.8" width="13.5" height="6.3" fill="none" stroke="#1a961a" stroke-width="1.5" />
<text x="170.4" y="427.4" font-size="6.55" font-weight="bold" fill="#111">Porous Ti/Y<tspan font-size="4.5" dy="1.5">2</tspan><tspan dy="-1.5">O</tspan><tspan font-size="4.5" dy="1.5">3</tspan><tspan dy="-1.5">-TiO</tspan><tspan font-size="4.5" dy="1.5">2</tspan><tspan dy="-1.5">-RuO</tspan><tspan font-size="4.5" dy="1.5">2</tspan><tspan dy="-1.5">@Pt</tspan></text>
<line x1="319.5" y1="404.5" x2="322.5" y2="404.5" stroke="#000" stroke-width="1" />
<text x="316.5" y="408.3" font-size="11.5" font-weight="bold" text-anchor="end" >75</text>
<line x1="320.8" y1="388.1" x2="322.5" y2="388.1" stroke="#000" stroke-width="1" />
<line x1="319.5" y1="371.7" x2="322.5" y2="371.7" stroke="#000" stroke-width="1" />
<text x="316.5" y="375.5" font-size="11.5" font-weight="bold" text-anchor="end" >80</text>
<line x1="320.8" y1="355.3" x2="322.5" y2="355.3" stroke="#000" stroke-width="1" />
<line x1="319.5" y1="338.9" x2="322.5" y2="338.9" stroke="#000" stroke-width="1" />
<text x="316.5" y="342.7" font-size="11.5" font-weight="bold" text-anchor="end" >85</text>
<line x1="320.8" y1="322.5" x2="322.5" y2="322.5" stroke="#000" stroke-width="1" />
<line x1="319.5" y1="306.1" x2="322.5" y2="306.1" stroke="#000" stroke-width="1" />
<text x="316.5" y="309.9" font-size="11.5" font-weight="bold" text-anchor="end" >90</text>
<line x1="320.8" y1="289.7" x2="322.5" y2="289.7" stroke="#000" stroke-width="1" />
<line x1="319.5" y1="273.3" x2="322.5" y2="273.3" stroke="#000" stroke-width="1" />
<text x="316.5" y="277.1" font-size="11.5" font-weight="bold" text-anchor="end" >95</text>
<line x1="320.8" y1="256.9" x2="322.5" y2="256.9" stroke="#000" stroke-width="1" />
<line x1="319.5" y1="240.5" x2="322.5" y2="240.5" stroke="#000" stroke-width="1" />
<text x="316.5" y="244.3" font-size="11.5" font-weight="bold" text-anchor="end" >100</text>
<line x1="322.3" y1="404.5" x2="322.3" y2="407.5" stroke="#000" stroke-width="1" />
<text x="322.3" y="419.3" font-size="11.5" font-weight="bold" text-anchor="middle" >0</text>
<line x1="340.86" y1="404.5" x2="340.86" y2="406.2" stroke="#000" stroke-width="1" />
<line x1="359.42" y1="404.5" x2="359.42" y2="407.5" stroke="#000" stroke-width="1" />
<text x="359.42" y="419.3" font-size="11.5" font-weight="bold" text-anchor="middle" >4</text>
<line x1="377.98" y1="404.5" x2="377.98" y2="406.2" stroke="#000" stroke-width="1" />
<line x1="396.54" y1="404.5" x2="396.54" y2="407.5" stroke="#000" stroke-width="1" />
<text x="396.54" y="419.3" font-size="11.5" font-weight="bold" text-anchor="middle" >8</text>
<line x1="415.1" y1="404.5" x2="415.1" y2="406.2" stroke="#000" stroke-width="1" />
<line x1="433.66" y1="404.5" x2="433.66" y2="407.5" stroke="#000" stroke-width="1" />
<text x="433.66" y="419.3" font-size="11.5" font-weight="bold" text-anchor="middle" >12</text>
<line x1="452.22" y1="404.5" x2="452.22" y2="406.2" stroke="#000" stroke-width="1" />
<line x1="470.78" y1="404.5" x2="470.78" y2="407.5" stroke="#000" stroke-width="1" />
<text x="470.78" y="419.3" font-size="11.5" font-weight="bold" text-anchor="middle" >16</text>
<line x1="489.34" y1="404.5" x2="489.34" y2="406.2" stroke="#000" stroke-width="1" />
<line x1="507.9" y1="404.5" x2="507.9" y2="407.5" stroke="#000" stroke-width="1" />
<text x="507.9" y="419.3" font-size="11.5" font-weight="bold" text-anchor="middle" >20</text>
<line x1="526.46" y1="404.5" x2="526.46" y2="406.2" stroke="#000" stroke-width="1" />
<text x="431.3" y="434.7" font-size="14.6" font-weight="bold" text-anchor="middle" >Time (h)</text>
<text x="0" y="0" font-size="14.6" font-weight="bold" text-anchor="middle" transform="translate(294.9,318.5) rotate(-90)">Removal (%)</text>
<text x="512.1" y="248.3" font-size="15" font-weight="bold" text-anchor="start" >(d)</text>
<polyline points="331.58,273.3 340.86,278.55 350.14,272.64 359.42,274.61 368.7,267.4 377.98,270.68 387.26,278.55 396.54,273.96 405.82,265.43 415.1,272.64 424.38,262.8 433.66,275.27 442.94,267.4 452.22,287.08 461.5,274.61 470.78,272.64 480.06,266.08 489.34,269.36 498.62,283.14 507.9,273.96" fill="none" stroke="#ff0000" stroke-width="1.3" stroke-linejoin="round"/>
<circle cx="331.58" cy="273.3" r="2.85" fill="url(#dr)"/>
<circle cx="340.86" cy="278.55" r="2.85" fill="url(#dr)"/>
<circle cx="350.14" cy="272.64" r="2.85" fill="url(#dr)"/>
<circle cx="359.42" cy="274.61" r="2.85" fill="url(#dr)"/>
<circle cx="368.7" cy="267.4" r="2.85" fill="url(#dr)"/>
<circle cx="377.98" cy="270.68" r="2.85" fill="url(#dr)"/>
<circle cx="387.26" cy="278.55" r="2.85" fill="url(#dr)"/>
<circle cx="396.54" cy="273.96" r="2.85" fill="url(#dr)"/>
<circle cx="405.82" cy="265.43" r="2.85" fill="url(#dr)"/>
<circle cx="415.1" cy="272.64" r="2.85" fill="url(#dr)"/>
<circle cx="424.38" cy="262.8" r="2.85" fill="url(#dr)"/>
<circle cx="433.66" cy="275.27" r="2.85" fill="url(#dr)"/>
<circle cx="442.94" cy="267.4" r="2.85" fill="url(#dr)"/>
<circle cx="452.22" cy="287.08" r="2.85" fill="url(#dr)"/>
<circle cx="461.5" cy="274.61" r="2.85" fill="url(#dr)"/>
<circle cx="470.78" cy="272.64" r="2.85" fill="url(#dr)"/>
<circle cx="480.06" cy="266.08" r="2.85" fill="url(#dr)"/>
<circle cx="489.34" cy="269.36" r="2.85" fill="url(#dr)"/>
<circle cx="498.62" cy="283.14" r="2.85" fill="url(#dr)"/>
<circle cx="507.9" cy="273.96" r="2.85" fill="url(#dr)"/>
<polyline points="331.58,263.46 340.86,254.93 350.14,248.37 359.42,251 368.7,260.84 377.98,274.61 387.26,248.37 396.54,251.65 405.82,256.9 415.1,281.83 424.38,251.65 433.66,256.9 442.94,251.65 452.22,256.9 461.5,254.93 470.78,258.87 480.06,249.03 489.34,266.74 498.62,254.28 507.9,262.8" fill="none" stroke="#1010ff" stroke-width="1.3" stroke-linejoin="round"/>
<circle cx="331.58" cy="263.46" r="2.85" fill="url(#db)"/>
<circle cx="340.86" cy="254.93" r="2.85" fill="url(#db)"/>
<circle cx="350.14" cy="248.37" r="2.85" fill="url(#db)"/>
<circle cx="359.42" cy="251" r="2.85" fill="url(#db)"/>
<circle cx="368.7" cy="260.84" r="2.85" fill="url(#db)"/>
<circle cx="377.98" cy="274.61" r="2.85" fill="url(#db)"/>
<circle cx="387.26" cy="248.37" r="2.85" fill="url(#db)"/>
<circle cx="396.54" cy="251.65" r="2.85" fill="url(#db)"/>
<circle cx="405.82" cy="256.9" r="2.85" fill="url(#db)"/>
<circle cx="415.1" cy="281.83" r="2.85" fill="url(#db)"/>
<circle cx="424.38" cy="251.65" r="2.85" fill="url(#db)"/>
<circle cx="433.66" cy="256.9" r="2.85" fill="url(#db)"/>
<circle cx="442.94" cy="251.65" r="2.85" fill="url(#db)"/>
<circle cx="452.22" cy="256.9" r="2.85" fill="url(#db)"/>
<circle cx="461.5" cy="254.93" r="2.85" fill="url(#db)"/>
<circle cx="470.78" cy="258.87" r="2.85" fill="url(#db)"/>
<circle cx="480.06" cy="249.03" r="2.85" fill="url(#db)"/>
<circle cx="489.34" cy="266.74" r="2.85" fill="url(#db)"/>
<circle cx="498.62" cy="254.28" r="2.85" fill="url(#db)"/>
<circle cx="507.9" cy="262.8" r="2.85" fill="url(#db)"/>
<polyline points="331.58,240.5 340.86,246.4 350.14,240.5 359.42,251 368.7,240.5 377.98,254.93 387.26,240.5 396.54,264.12 405.82,240.5 415.1,246.4 424.38,240.5 433.66,249.03 442.94,240.5 452.22,258.87 461.5,240.5 470.78,265.43 480.06,240.5 489.34,250.34 498.62,240.5 507.9,246.4" fill="none" stroke="#128a12" stroke-width="1.3" stroke-linejoin="round"/>
<circle cx="331.58" cy="240.5" r="2.85" fill="url(#dg)"/>
<circle cx="340.86" cy="246.4" r="2.85" fill="url(#dg)"/>
<circle cx="350.14" cy="240.5" r="2.85" fill="url(#dg)"/>
<circle cx="359.42" cy="251" r="2.85" fill="url(#dg)"/>
<circle cx="368.7" cy="240.5" r="2.85" fill="url(#dg)"/>
<circle cx="377.98" cy="254.93" r="2.85" fill="url(#dg)"/>
<circle cx="387.26" cy="240.5" r="2.85" fill="url(#dg)"/>
<circle cx="396.54" cy="264.12" r="2.85" fill="url(#dg)"/>
<circle cx="405.82" cy="240.5" r="2.85" fill="url(#dg)"/>
<circle cx="415.1" cy="246.4" r="2.85" fill="url(#dg)"/>
<circle cx="424.38" cy="240.5" r="2.85" fill="url(#dg)"/>
<circle cx="433.66" cy="249.03" r="2.85" fill="url(#dg)"/>
<circle cx="442.94" cy="240.5" r="2.85" fill="url(#dg)"/>
<circle cx="452.22" cy="258.87" r="2.85" fill="url(#dg)"/>
<circle cx="461.5" cy="240.5" r="2.85" fill="url(#dg)"/>
<circle cx="470.78" cy="265.43" r="2.85" fill="url(#dg)"/>
<circle cx="480.06" cy="240.5" r="2.85" fill="url(#dg)"/>
<circle cx="489.34" cy="250.34" r="2.85" fill="url(#dg)"/>
<circle cx="498.62" cy="240.5" r="2.85" fill="url(#dg)"/>
<circle cx="507.9" cy="246.4" r="2.85" fill="url(#dg)"/>
<rect x="322.5" y="234.2" width="212.9" height="170.3" fill="none" stroke="#000" stroke-width="1.3" />
<line x1="326.4" y1="367.5" x2="346.2" y2="367.5" stroke="#ff0000" stroke-width="1.3" />
<circle cx="336.5" cy="367.5" r="2.6" fill="url(#dr)"/>
<text x="349.8" y="370.5" font-size="8.9" font-weight="normal" fill="#222">Porous Ti/RuO<tspan font-size="6" dy="1.9">2</tspan><tspan dy="-1.9">-IrO</tspan><tspan font-size="6" dy="1.9">2</tspan><tspan dy="-1.9">@Pt</tspan></text>
<line x1="326.4" y1="380.6" x2="346.2" y2="380.6" stroke="#1010ff" stroke-width="1.3" />
<circle cx="336.5" cy="380.6" r="2.6" fill="url(#db)"/>
<text x="349.8" y="383.6" font-size="8.9" font-weight="normal" fill="#222">Porous Ti/RuO<tspan font-size="6" dy="1.9">2</tspan><tspan dy="-1.9">-TiO</tspan><tspan font-size="6" dy="1.9">2</tspan><tspan dy="-1.9">@Pt</tspan></text>
<line x1="326.4" y1="393.4" x2="346.2" y2="393.4" stroke="#128a12" stroke-width="1.3" />
<circle cx="336.5" cy="393.4" r="2.6" fill="url(#dg)"/>
<text x="349.8" y="396.4" font-size="8.9" font-weight="normal" fill="#222">Porous Ti/Y<tspan font-size="6" dy="1.9">2</tspan><tspan dy="-1.9">O</tspan><tspan font-size="6" dy="1.9">3</tspan><tspan dy="-1.9">-TiO</tspan><tspan font-size="6" dy="1.9">2</tspan><tspan dy="-1.9">-RuO</tspan><tspan font-size="6" dy="1.9">2</tspan><tspan dy="-1.9">@Pt</tspan></text>
</svg></body></html>
